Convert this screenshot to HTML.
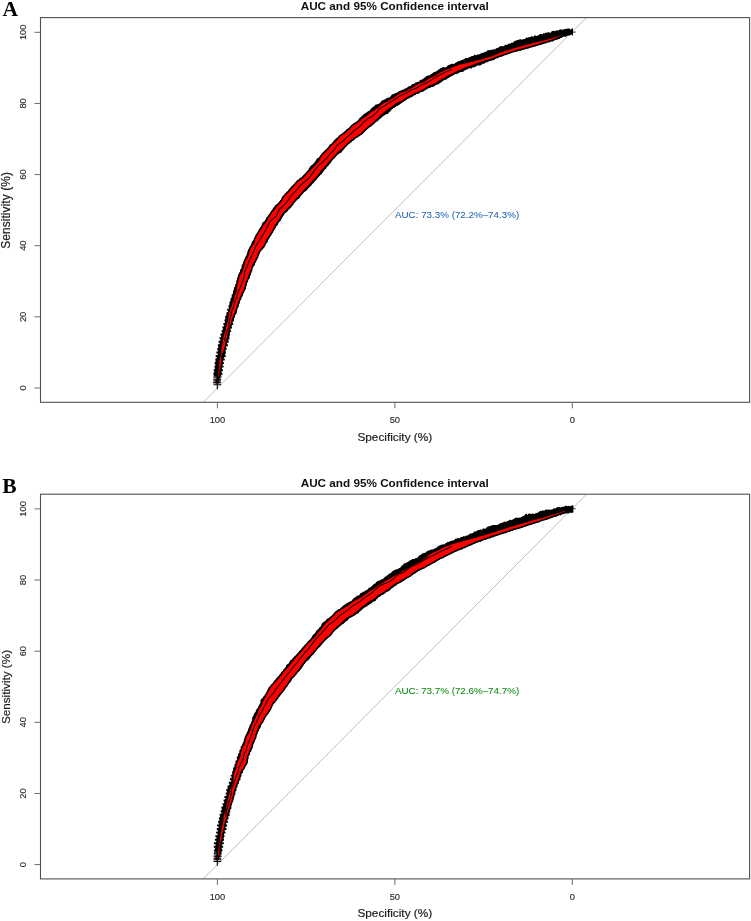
<!DOCTYPE html>
<html lang="en">
<head>
<meta charset="utf-8">
<title>AUC and 95% Confidence interval</title>
<style>
html,body{margin:0;padding:0;background:#fff;}
body{width:751px;height:921px;overflow:hidden;}
svg{display:block;filter:blur(0.35px);}
text{font-family:"Liberation Sans",Arial,Helvetica,sans-serif;fill:#222;}
.tk{font-size:9.3px;fill:#2a2a2a;stroke:#2a2a2a;stroke-width:0.15px;}
.lab{font-size:11.8px;fill:#1c1c1c;stroke:#1c1c1c;stroke-width:0.2px;}
.ttl{font-size:11.72px;font-weight:bold;fill:#111;}
.auc{font-size:9.8px;stroke-width:0.05px;}
.pl{font-family:"Liberation Serif","Times New Roman",serif;font-weight:bold;font-size:21.5px;fill:#000;}
</style>
</head>
<body>
<svg width="751" height="921" viewBox="0 0 751 921">
<rect width="751" height="921" fill="#fff"/>
<line x1="203.2" y1="402.3" x2="586.5" y2="17.6" stroke="#b4b4b4" stroke-width="0.85"/>
<polygon points="213.7,375.9 213.6,375.9 213.8,374.7 213.6,373.5 214.0,372.3 214.8,371.2 214.5,369.9 214.9,368.8 215.0,367.6 215.1,366.4 215.5,365.2 215.1,364.0 215.2,362.8 215.5,361.6 215.7,360.4 216.0,359.2 216.7,358.1 216.8,356.9 217.7,355.9 217.8,354.7 217.8,353.5 218.2,352.3 217.9,351.0 217.6,349.8 217.8,348.6 218.4,347.5 218.2,346.2 218.9,345.1 219.6,344.0 219.6,342.8 219.9,341.6 220.2,340.5 220.7,339.3 220.4,338.0 221.0,336.9 221.1,335.7 221.3,334.5 221.4,333.3 222.5,332.4 222.3,331.1 222.5,329.9 223.2,328.8 223.3,327.6 223.9,326.5 224.1,325.3 224.2,324.1 224.8,323.0 225.0,321.9 224.7,320.5 225.2,319.4 225.5,318.3 225.5,317.0 226.2,316.0 226.2,314.7 226.9,313.7 227.2,312.5 228.3,311.6 228.2,310.3 228.4,309.1 229.2,308.1 228.5,306.6 229.3,305.6 229.3,304.3 229.8,303.2 229.9,302.0 230.2,300.8 231.1,299.8 230.7,298.4 231.6,297.4 231.9,296.2 232.1,295.1 232.7,294.0 233.1,292.8 233.1,291.6 233.4,290.4 234.0,289.3 233.9,288.0 234.7,287.0 235.4,286.0 235.7,284.8 236.4,283.8 236.7,282.7 236.5,281.3 237.1,280.3 236.9,279.0 237.3,277.8 238.2,276.9 237.8,275.5 238.3,274.4 239.5,273.6 239.3,272.3 240.3,271.3 240.7,270.2 240.6,268.9 241.6,268.0 241.6,266.8 241.6,265.5 242.2,264.4 243.0,263.5 243.1,262.2 243.7,261.2 244.2,260.1 244.9,259.1 244.9,257.8 245.5,256.7 246.2,255.7 246.8,254.7 246.8,253.4 247.5,252.4 247.7,251.1 248.0,249.9 248.7,249.0 249.5,248.0 249.9,246.8 250.6,245.8 250.8,244.6 251.5,243.6 251.7,242.3 252.4,241.3 253.3,240.4 254.5,239.6 255.2,238.7 255.1,237.2 255.7,236.1 256.2,235.1 256.9,234.0 257.5,233.0 257.7,231.7 258.4,230.7 258.9,229.6 259.5,228.6 260.1,227.5 261.1,226.7 261.7,225.6 261.7,224.2 262.3,223.2 263.0,222.1 264.3,221.6 265.0,220.6 265.6,219.5 266.0,218.4 266.5,217.2 267.6,216.5 268.0,215.3 269.1,214.7 270.0,213.8 270.3,212.6 271.1,211.7 271.7,210.6 272.4,209.7 272.9,208.5 273.7,207.6 274.4,206.6 275.0,205.6 275.9,204.8 277.4,204.5 278.3,203.7 278.7,202.4 279.5,201.6 280.1,200.5 281.1,199.8 281.7,198.7 282.5,197.9 282.9,196.6 284.1,196.0 284.7,195.0 285.4,194.0 286.7,193.6 287.4,192.6 288.1,191.6 288.7,190.6 289.7,189.8 290.4,188.8 291.2,188.0 291.5,186.6 293.0,186.3 294.0,185.6 294.7,184.7 295.7,183.9 296.4,182.9 297.3,182.1 297.6,180.8 298.7,180.2 299.3,179.1 299.9,178.0 301.2,177.6 302.1,176.7 302.8,175.7 303.8,175.0 305.0,174.5 305.9,173.7 306.5,172.6 307.0,171.4 307.8,170.5 308.6,169.6 308.9,168.2 309.7,167.4 310.3,166.3 311.2,165.5 312.1,164.7 313.3,164.1 313.8,162.9 314.8,162.2 315.4,161.2 316.1,160.1 316.6,158.9 317.5,158.1 318.8,157.7 319.7,156.8 320.5,155.9 321.2,154.9 321.8,153.9 322.5,153.0 323.5,152.2 324.2,151.2 325.0,150.3 326.1,149.7 326.7,148.7 327.7,147.9 328.6,147.2 328.9,145.8 329.6,144.8 330.8,144.3 331.9,143.7 332.4,142.6 333.2,141.7 334.0,140.8 334.6,139.7 335.6,139.0 336.4,138.1 337.8,137.9 338.5,136.8 339.3,136.0 340.7,135.8 341.6,135.0 342.1,133.7 342.8,132.8 344.1,132.4 344.6,131.2 345.8,130.7 346.4,129.6 347.4,128.9 348.6,128.4 349.5,127.7 350.2,126.5 351.3,126.0 352.1,125.1 353.3,124.6 354.3,123.9 354.9,122.7 356.0,122.1 357.0,121.3 357.8,120.5 358.5,119.4 359.3,118.5 360.0,117.5 361.2,116.9 361.8,115.8 362.9,115.2 363.7,114.3 364.7,113.6 365.7,112.9 366.7,112.2 367.7,111.5 368.9,111.0 369.9,110.3 370.6,109.3 371.3,108.3 372.4,107.6 373.3,106.8 374.3,106.2 375.0,105.1 376.0,104.4 377.4,104.3 378.6,103.9 379.5,103.2 380.4,102.3 381.3,101.6 381.9,100.3 383.4,100.3 384.3,99.6 385.5,99.2 386.3,98.3 387.4,97.8 388.7,97.8 389.8,97.3 390.6,96.3 391.4,95.3 392.2,94.2 393.5,94.2 394.5,93.6 395.6,93.1 396.8,92.7 397.9,92.3 398.7,91.3 399.8,90.8 400.9,90.4 402.0,89.9 403.1,89.4 404.3,89.2 405.2,88.2 406.5,88.2 407.4,87.3 408.4,86.5 409.6,86.2 410.7,85.9 411.5,84.8 412.5,84.1 413.8,84.0 414.8,83.3 415.7,82.2 417.0,82.2 418.2,81.8 419.4,81.6 420.0,80.1 421.1,79.7 422.3,79.4 423.3,78.4 424.3,77.9 425.4,77.1 426.2,76.2 427.3,75.7 428.6,75.6 429.8,75.2 430.7,74.2 431.9,73.7 432.8,72.9 433.9,72.0 434.9,72.0 436.1,71.2 437.2,71.0 438.1,69.6 439.2,69.4 440.0,68.5 441.3,68.1 442.4,67.4 443.4,66.7 444.8,67.4 445.8,67.2 447.0,66.8 447.9,65.1 449.2,65.2 450.0,64.2 451.1,64.3 452.2,63.5 453.6,64.2 454.6,63.6 455.6,62.7 456.9,61.9 457.9,61.5 458.9,60.8 459.9,60.9 461.0,60.2 462.1,59.9 463.3,59.6 464.3,59.0 465.5,58.0 466.5,58.0 467.9,58.2 468.9,57.2 470.2,56.9 471.2,56.2 472.3,56.1 473.5,56.0 474.4,54.6 475.7,55.3 476.8,55.1 478.0,54.3 479.1,54.4 480.2,53.8 481.3,53.2 482.5,53.0 483.6,52.4 484.8,52.2 485.8,51.4 486.9,51.4 487.9,49.7 489.1,50.5 490.4,49.8 491.7,49.9 492.8,49.6 493.9,49.2 495.2,49.3 496.2,48.3 497.4,48.0 498.6,47.6 499.5,46.8 500.7,46.0 502.0,46.3 503.1,46.3 504.3,45.7 505.5,44.6 506.6,45.2 507.8,44.3 509.0,43.5 510.1,43.8 511.2,42.8 512.4,42.8 513.5,42.3 514.4,41.0 515.6,40.7 516.6,40.2 517.9,40.0 519.1,39.6 520.3,39.3 521.4,39.5 522.7,39.6 523.9,39.1 525.1,38.9 526.2,37.6 527.3,37.7 528.6,37.2 529.7,37.3 530.8,36.7 532.0,36.1 533.2,36.9 534.4,35.5 535.6,35.6 536.7,35.9 537.9,35.5 539.1,34.8 540.1,33.9 541.3,34.1 542.4,34.4 543.5,33.1 544.6,33.5 545.8,32.5 547.0,32.8 548.2,32.2 549.3,32.2 550.6,33.0 551.6,31.2 552.7,30.9 553.9,30.7 555.1,31.3 556.3,30.3 557.4,30.4 558.7,30.2 559.8,29.4 561.0,29.2 562.1,29.9 563.4,29.3 564.6,29.3 565.8,28.7 566.9,28.7 568.1,28.5 569.4,28.6 570.6,29.4 571.8,28.7 573.0,28.3 573.0,34.9 571.9,34.4 570.7,34.9 569.6,35.4 568.4,35.6 567.2,35.8 566.2,36.8 565.0,36.7 563.8,36.4 562.7,36.9 561.5,38.0 560.5,37.9 559.2,39.0 558.1,38.9 557.0,40.1 555.9,39.5 554.7,40.3 553.7,40.5 552.5,41.7 551.3,40.9 550.1,42.0 548.9,42.4 547.8,42.0 546.7,43.3 545.6,42.9 544.4,43.3 543.3,43.9 542.1,44.1 540.9,44.9 539.8,45.0 538.6,44.9 537.5,45.4 536.3,45.2 535.3,46.6 534.1,46.3 532.9,47.1 531.8,46.5 530.6,47.1 529.4,47.9 528.3,48.5 527.1,48.4 526.1,49.0 524.9,49.2 523.8,49.5 522.6,49.8 521.4,50.5 520.3,50.8 519.1,50.1 517.9,51.3 516.8,51.2 515.7,51.5 514.4,51.5 513.3,51.9 512.1,52.4 511.0,52.5 509.9,53.1 508.7,53.4 507.7,54.1 506.5,54.7 505.4,54.4 504.2,55.1 503.0,55.4 501.9,56.4 500.8,57.0 499.7,56.8 498.5,57.6 497.4,58.5 496.2,58.1 495.2,59.1 494.1,60.0 492.9,60.2 491.8,60.6 490.6,61.0 489.5,60.8 488.3,61.7 487.3,62.2 486.1,62.2 485.0,62.9 483.9,63.9 482.7,63.5 481.6,64.8 480.5,65.3 479.3,65.8 478.2,65.3 477.0,65.7 475.9,66.5 474.8,66.9 473.7,67.5 472.6,67.2 471.5,68.6 470.4,68.4 469.2,68.1 468.1,69.3 467.0,69.2 466.0,70.1 464.8,70.3 463.8,71.3 462.7,71.9 461.7,71.9 460.5,72.1 459.4,72.4 458.4,73.4 457.3,73.4 456.1,74.3 455.1,74.1 453.9,74.7 452.8,75.6 451.7,76.3 450.7,76.6 449.7,77.3 448.5,78.1 447.5,78.6 446.3,79.7 445.1,79.7 443.9,80.2 443.1,81.0 441.7,81.7 441.0,82.7 439.9,83.1 438.9,84.0 437.7,84.4 436.6,84.7 435.5,85.1 434.7,86.2 433.6,86.6 432.4,87.1 431.3,87.1 430.2,87.9 429.2,88.1 428.0,88.6 427.1,89.1 426.1,89.7 425.0,89.9 424.0,90.9 423.1,91.5 422.1,91.9 420.9,92.1 419.9,92.6 418.9,93.4 417.7,93.9 416.5,93.8 415.6,95.0 414.4,95.2 413.3,95.7 412.5,96.8 411.2,97.3 410.1,97.7 409.1,98.5 407.7,98.5 406.8,99.5 405.8,100.3 404.5,100.5 403.8,101.8 402.6,102.2 401.7,103.0 400.7,103.8 399.8,104.6 398.7,105.1 397.7,105.9 396.5,106.1 395.6,106.9 394.7,107.8 393.3,107.9 392.7,109.0 391.5,109.4 391.0,110.7 390.1,111.4 389.2,112.1 388.5,113.2 387.7,114.0 386.4,114.3 385.2,114.6 384.5,115.6 383.3,116.1 382.4,116.8 381.5,117.5 380.7,118.4 379.5,118.9 378.9,119.9 378.0,120.7 377.0,121.5 375.9,122.0 375.1,122.8 374.2,123.6 373.4,124.6 372.4,125.2 371.5,126.1 370.6,126.9 369.3,127.1 368.4,128.1 367.4,128.7 366.5,129.5 365.7,130.4 364.8,131.3 363.7,131.9 362.6,132.4 361.8,133.4 360.7,134.0 359.8,134.9 358.6,135.3 358.1,136.6 356.9,137.0 355.8,137.7 355.0,138.5 354.4,139.7 353.4,140.4 352.2,141.0 351.3,141.7 350.6,142.8 349.5,143.3 348.4,143.9 347.8,145.1 346.6,145.6 346.1,146.8 344.8,147.2 344.4,148.6 343.5,149.3 343.1,150.6 342.0,151.2 341.5,152.5 340.3,153.0 339.2,153.5 338.2,154.3 337.3,155.0 336.1,155.6 335.5,156.6 334.6,157.5 333.7,158.2 332.8,159.1 332.1,160.0 331.7,161.3 331.0,162.3 330.5,163.4 329.4,164.1 329.0,165.3 327.9,166.0 327.0,166.7 326.3,167.7 325.9,169.0 324.8,169.6 324.1,170.5 323.5,171.6 322.6,172.4 322.1,173.6 321.2,174.4 320.3,175.1 319.5,176.1 318.6,176.9 318.0,177.9 316.8,178.5 316.6,179.9 315.4,180.5 314.9,181.6 313.9,182.3 313.3,183.4 312.0,183.8 311.7,185.2 310.7,185.9 309.9,186.8 309.1,187.7 308.1,188.4 307.5,189.5 306.6,190.4 305.7,191.2 304.6,191.8 303.3,192.2 302.9,193.5 301.7,194.0 300.9,194.9 300.5,196.2 299.8,197.2 299.3,198.4 298.3,199.1 297.2,199.8 296.4,200.6 295.5,201.5 294.6,202.3 293.9,203.3 293.4,204.5 292.7,205.4 291.7,206.1 291.2,207.3 290.4,208.2 289.6,209.1 288.4,209.7 287.9,210.8 287.1,211.7 286.2,212.5 285.0,213.1 284.4,214.1 283.9,215.2 283.0,216.0 282.4,217.1 282.1,218.4 281.1,219.1 281.0,220.5 280.0,221.2 279.1,222.1 278.3,223.0 277.8,224.1 277.6,225.4 276.4,226.1 275.8,227.1 275.3,228.2 274.6,229.2 273.9,230.2 273.0,231.1 272.4,232.1 272.0,233.3 271.2,234.2 271.0,235.5 270.1,236.3 269.7,237.5 268.9,238.4 268.6,239.6 267.9,240.6 267.9,242.0 266.8,242.7 266.1,243.8 265.3,244.7 264.9,245.8 263.8,246.5 263.1,247.5 262.1,248.3 261.8,249.5 261.1,250.5 260.4,251.4 259.6,252.4 258.9,253.3 258.7,254.6 258.1,255.6 257.2,256.5 256.9,257.7 256.6,258.9 256.4,260.1 255.7,261.1 255.5,262.3 254.9,263.4 255.0,264.7 254.2,265.7 253.3,266.6 252.5,267.6 252.1,268.8 252.1,270.0 251.2,271.0 251.5,272.4 251.0,273.5 250.3,274.5 250.1,275.8 249.5,276.8 249.1,278.0 248.1,278.9 248.2,280.2 247.7,281.4 247.1,282.4 246.4,283.4 246.2,284.7 245.9,285.8 245.7,287.1 244.8,288.0 244.0,289.0 244.0,290.3 243.6,291.4 243.0,292.5 242.6,293.6 241.9,294.7 241.6,295.9 241.4,297.1 241.0,298.2 240.5,299.3 239.6,300.3 239.0,301.4 238.8,302.5 238.0,303.5 237.9,304.8 237.4,305.9 237.5,307.2 237.1,308.3 236.7,309.4 236.4,310.6 236.7,312.0 236.3,313.1 235.3,314.0 235.1,315.2 234.9,316.4 234.3,317.5 233.6,318.5 233.7,319.8 232.8,320.8 232.3,321.9 231.8,323.0 231.5,324.1 231.4,325.4 230.7,326.4 230.4,327.6 230.0,328.7 229.8,329.9 229.8,331.2 229.9,332.4 229.4,333.6 229.4,334.8 229.5,336.0 229.2,337.2 229.0,338.4 228.3,339.5 228.4,340.7 227.9,341.8 227.2,342.9 226.8,344.0 226.4,345.2 225.8,346.3 226.1,347.6 225.5,348.7 225.3,349.9 225.6,351.2 225.5,352.4 225.2,353.6 225.1,354.8 224.7,355.9 224.4,357.1 223.8,358.2 223.3,359.3 223.1,360.5 223.1,361.8 222.6,362.9 222.6,364.1 222.7,365.4 222.1,366.5 221.8,367.6 221.6,368.8 222.1,370.1 221.6,371.3 221.4,372.5 221.4,373.7 221.0,374.8 221.4,375.9" fill="#000"/>
<path d="M213.5 373.77H222.5M213.7 370.21H222.9M214.3 366.66H223.6M214.6 363.10H224.0M215.4 359.54H224.7M215.7 355.99H225.7M216.4 352.43H225.8M217.3 348.87H226.7M217.9 345.32H227.9M218.6 341.76H228.7M219.5 338.20H229.5M220.4 334.64H229.8M221.6 331.09H231.1M222.4 327.53H232.0M223.4 323.97H233.2M224.6 320.42H234.0M225.2 316.86H234.9M226.5 313.30H236.3M227.2 309.75H237.2M228.6 306.19H238.7M229.5 302.63H239.8M230.6 299.07H241.2M231.7 295.52H242.4M233.0 291.96H244.0M234.0 288.40H245.3M235.3 284.85H246.7M236.5 281.29H248.0M237.6 277.73H249.5M238.8 274.18H250.9M240.0 270.62H252.2" stroke="#000" stroke-width="1.9" fill="none"/>
<path d="M213.1 382.49H221.0M213.2 379.64H221.2M213.4 376.97H221.5" stroke="#000" stroke-width="1.5" fill="none" opacity="0.8"/>
<polygon points="213.4,383.7 213.9,375.9 221.2,375.9 220.5,383.7" fill="#000" opacity="0.4"/>
<path d="M213.5 384.8h7.8M217.3 381.6v7.6" stroke="#000" stroke-width="1.1" fill="none"/>
<path d="M569.1 32.1h6.6M572.5 28.7v7" stroke="#000" stroke-width="0.8" fill="none"/>
<polygon points="217.5,382.0 217.7,380.5 217.9,379.0 218.0,377.5 218.2,376.0 218.3,374.4 218.3,372.9 218.5,371.4 218.8,369.9 219.0,368.5 219.0,366.9 219.1,365.4 219.3,364.0 219.4,362.4 219.4,360.9 219.8,359.5 220.1,358.0 220.6,356.6 220.9,355.1 221.3,353.6 221.3,352.1 221.5,350.6 221.5,349.1 221.8,347.6 221.9,346.1 222.4,344.7 222.6,343.2 222.8,341.7 223.1,340.3 223.2,338.7 223.5,337.3 223.8,335.8 224.1,334.3 224.8,332.9 225.2,331.5 225.9,330.1 226.1,328.6 226.2,327.1 226.6,325.6 227.1,324.2 227.5,322.7 227.9,321.3 228.2,319.8 228.4,318.3 228.6,316.8 228.9,315.3 229.0,313.8 229.4,312.3 230.0,310.9 230.4,309.4 231.1,308.1 231.4,306.6 232.0,305.2 232.3,303.7 232.8,302.3 233.5,300.9 233.9,299.4 234.3,298.0 234.7,296.5 235.2,295.1 235.7,293.7 236.2,292.3 236.6,290.8 236.9,289.3 236.8,287.7 237.1,286.2 237.5,284.8 237.8,283.3 238.3,281.9 238.6,280.4 238.9,278.9 239.5,277.5 239.9,276.1 240.7,274.8 241.3,273.4 242.2,272.1 242.8,270.7 243.4,269.3 243.9,267.9 244.3,266.5 244.7,265.0 244.9,263.5 245.2,262.0 245.7,260.6 246.5,259.3 247.2,258.0 247.9,256.7 248.7,255.3 249.1,253.9 249.3,252.4 249.7,250.9 250.3,249.5 250.9,248.2 251.7,246.9 252.7,245.7 253.4,244.4 254.2,243.1 254.8,241.7 255.1,240.2 255.5,238.7 256.3,237.4 256.9,236.0 257.7,234.8 258.7,233.6 259.4,232.2 260.2,230.9 261.0,229.7 261.7,228.3 262.7,227.2 263.4,225.8 264.3,224.6 265.2,223.4 266.0,222.2 267.0,221.0 267.8,219.7 268.4,218.3 269.3,217.1 270.1,215.8 270.8,214.5 271.8,213.3 272.5,211.9 273.6,210.9 274.6,209.7 275.6,208.6 276.5,207.3 277.3,206.1 278.3,205.0 279.4,203.9 280.4,202.8 281.3,201.6 282.3,200.4 282.9,198.9 283.6,197.6 284.6,196.4 285.6,195.2 286.7,194.2 287.7,193.1 289.0,192.1 289.8,190.8 290.9,189.8 291.7,188.5 292.8,187.4 293.8,186.3 294.9,185.2 295.9,184.1 296.9,182.9 297.9,181.8 299.2,180.9 300.4,180.0 301.9,179.3 303.0,178.3 304.1,177.3 304.9,176.0 306.0,174.9 306.9,173.8 307.9,172.7 309.0,171.7 310.2,170.7 311.2,169.7 312.3,168.6 313.2,167.5 314.2,166.4 315.1,165.3 316.2,164.3 317.3,163.3 318.3,162.2 319.2,161.0 319.9,159.6 320.5,158.1 321.3,156.8 322.2,155.6 323.1,154.4 324.2,153.4 325.3,152.3 326.5,151.3 327.5,150.2 328.6,149.1 329.6,148.0 330.6,146.8 331.6,145.7 332.7,144.6 333.8,143.6 335.0,142.6 336.0,141.5 337.1,140.4 338.1,139.3 339.0,138.1 340.0,136.9 341.1,135.8 342.4,135.1 343.7,134.3 344.9,133.4 346.1,132.5 347.1,131.3 348.3,130.4 349.5,129.5 350.6,128.5 351.5,127.2 352.6,126.1 353.7,125.2 355.0,124.4 356.3,123.6 357.6,122.8 358.8,122.0 360.0,121.0 361.1,120.0 362.2,119.0 363.5,118.1 364.7,117.3 366.1,116.6 367.3,115.7 368.3,114.5 369.5,113.6 370.7,112.6 372.0,111.8 373.2,110.9 374.6,110.2 375.8,109.3 377.2,108.6 378.2,107.4 379.4,106.5 380.5,105.4 381.7,104.4 382.9,103.6 384.4,103.1 385.8,102.4 387.1,101.7 388.4,101.0 389.6,100.1 390.9,99.3 392.3,98.6 393.6,98.0 394.9,97.1 396.0,96.1 397.2,95.2 398.5,94.4 399.7,93.5 401.0,92.8 402.4,92.4 403.8,91.9 405.2,91.4 406.7,90.9 407.9,90.1 409.1,89.2 410.5,88.7 411.8,88.1 413.1,87.2 414.4,86.5 415.5,85.5 416.9,84.9 418.3,84.3 419.6,83.6 421.1,83.2 422.4,82.5 423.8,81.9 425.2,81.2 426.5,80.4 427.8,79.5 429.0,78.5 430.4,77.9 431.8,77.2 433.3,76.6 434.7,75.9 436.0,75.1 437.3,74.2 438.7,73.5 440.0,72.8 441.4,72.0 442.8,71.4 444.1,70.6 445.5,69.9 446.9,69.3 448.4,68.9 449.8,68.4 451.2,67.9 452.6,67.3 454.0,66.8 455.4,66.2 456.8,65.8 458.2,65.3 459.5,64.8 461.0,64.5 462.4,64.1 463.8,63.8 465.2,63.6 466.6,63.3 468.0,62.9 469.5,62.5 470.9,62.1 472.3,61.7 473.7,61.4 475.1,61.0 476.5,60.6 478.0,60.2 479.4,59.9 480.8,59.4 482.3,59.1 483.8,58.7 485.2,58.3 486.7,57.8 488.1,57.3 489.5,56.9 491.0,56.4 492.4,55.8 493.9,55.4 495.3,54.8 496.7,54.3 498.1,53.7 499.6,53.1 501.0,52.6 502.5,52.1 503.9,51.6 505.4,51.1 506.8,50.6 508.3,50.2 509.7,49.7 511.2,49.2 512.7,48.8 514.1,48.3 515.6,48.0 517.0,47.6 518.5,47.1 519.9,46.7 521.4,46.3 522.8,45.8 524.2,45.4 525.7,45.0 527.1,44.7 528.6,44.2 530.0,43.9 531.5,43.6 532.9,43.2 534.4,42.8 535.8,42.3 537.2,42.0 538.7,41.7 540.2,41.4 541.6,41.1 543.1,40.7 544.5,40.3 545.9,39.9 547.4,39.5 548.8,39.1 550.3,38.7 551.7,38.3 553.1,37.9 554.6,37.4 556.0,37.0 557.4,36.5 558.9,36.0 560.3,35.6 561.8,35.1 563.2,34.5 564.6,33.9 566.0,33.3 566.0,33.3 564.6,33.9 563.2,34.6 561.8,35.2 560.5,35.8 559.1,36.5 557.8,37.2 556.4,37.8 555.0,38.4 553.6,38.9 552.2,39.4 550.8,39.9 549.3,40.3 547.9,40.8 546.5,41.2 545.1,41.7 543.7,42.1 542.2,42.6 540.8,43.0 539.4,43.5 538.0,44.0 536.6,44.4 535.1,44.8 533.7,45.2 532.2,45.6 530.8,46.0 529.4,46.4 527.9,46.7 526.5,47.1 525.0,47.5 523.6,47.9 522.1,48.3 520.6,48.7 519.2,49.1 517.7,49.6 516.3,50.0 514.8,50.4 513.4,50.8 511.9,51.3 510.5,51.8 509.0,52.3 507.6,52.8 506.2,53.3 504.7,53.8 503.2,54.2 501.8,54.7 500.3,55.2 498.9,55.7 497.5,56.2 496.0,56.8 494.6,57.2 493.1,57.7 491.7,58.2 490.2,58.7 488.8,59.2 487.4,59.7 485.9,60.1 484.5,60.6 483.0,61.1 481.6,61.6 480.2,62.1 478.8,62.6 477.4,63.1 476.0,63.6 474.6,64.1 473.2,64.6 471.8,65.2 470.5,65.7 469.1,66.1 467.7,66.6 466.3,67.0 464.9,67.5 463.6,68.1 462.2,68.7 460.9,69.3 459.6,69.9 458.2,70.5 456.9,71.1 455.6,71.8 454.3,72.5 452.9,73.2 451.6,73.8 450.2,74.5 448.9,75.1 447.5,75.8 446.2,76.5 444.9,77.2 443.5,78.0 442.2,78.7 440.9,79.5 439.5,80.2 438.2,81.0 437.0,82.0 435.7,82.9 434.4,83.6 433.0,84.2 431.4,84.5 430.0,85.2 428.5,85.7 427.2,86.5 426.0,87.4 424.7,88.3 423.4,89.1 422.2,90.0 420.8,90.6 419.3,91.1 418.0,91.8 416.5,92.2 415.1,92.7 413.9,93.6 412.5,94.2 411.2,94.9 409.7,95.4 408.5,96.2 407.2,97.0 405.9,97.8 404.7,98.7 403.5,99.6 402.3,100.4 401.0,101.1 399.5,101.5 398.1,102.1 396.9,102.9 395.5,103.5 394.4,104.5 393.2,105.4 392.1,106.5 390.9,107.3 389.5,108.0 388.3,108.8 387.1,109.8 385.9,110.7 384.7,111.6 383.6,112.6 382.5,113.6 381.4,114.6 380.1,115.5 379.1,116.7 378.1,117.8 377.0,118.8 375.8,119.8 374.7,120.9 373.6,121.9 372.6,123.0 371.3,123.9 370.0,124.7 368.9,125.7 367.7,126.7 366.6,127.7 365.5,128.8 364.3,129.7 363.3,130.8 362.3,132.0 361.2,133.1 359.9,134.0 358.6,134.8 357.4,135.7 356.0,136.4 354.7,137.2 353.5,138.1 352.3,139.0 351.1,140.0 350.0,141.0 348.8,142.0 347.6,142.9 346.5,143.9 345.5,145.1 344.4,146.1 343.5,147.3 342.3,148.2 341.3,149.3 340.1,150.2 338.8,151.0 337.8,152.1 336.8,153.3 335.7,154.3 334.8,155.5 333.8,156.6 332.6,157.5 331.7,158.7 330.7,159.8 329.5,160.7 328.6,161.9 327.7,163.1 326.9,164.3 325.9,165.5 324.8,166.5 323.7,167.5 322.8,168.7 321.6,169.7 320.8,170.9 319.9,172.1 319.1,173.4 318.1,174.6 317.2,175.8 316.1,176.8 315.2,178.1 314.1,179.1 313.1,180.3 312.0,181.3 311.1,182.6 309.9,183.6 308.9,184.7 307.9,185.8 306.6,186.7 305.7,187.9 304.6,189.0 303.5,190.1 302.6,191.3 301.7,192.6 300.7,193.7 299.6,194.8 298.5,195.9 297.5,197.0 296.4,198.1 295.4,199.2 294.4,200.3 293.5,201.5 292.5,202.6 291.6,203.9 290.6,205.0 289.6,206.2 288.5,207.2 287.5,208.3 286.5,209.4 285.4,210.5 284.2,211.5 283.3,212.6 282.2,213.7 281.6,215.0 280.7,216.3 280.0,217.6 279.2,218.9 278.4,220.1 277.5,221.3 276.7,222.5 275.8,223.7 275.0,225.0 274.3,226.2 273.8,227.7 273.0,228.9 272.3,230.2 271.7,231.5 270.8,232.8 270.1,234.1 269.3,235.3 268.4,236.5 267.5,237.7 266.6,238.9 265.9,240.2 265.3,241.6 264.7,243.0 264.1,244.4 263.5,245.9 262.5,247.1 261.5,248.3 260.3,249.3 259.3,250.6 258.6,252.0 257.9,253.4 257.4,254.9 256.9,256.4 256.3,257.8 255.5,259.1 254.9,260.5 254.2,261.8 253.3,263.0 252.5,264.3 251.9,265.6 251.6,267.1 250.9,268.4 250.6,269.9 249.9,271.2 249.6,272.7 249.0,274.1 248.4,275.4 248.0,276.8 247.5,278.2 246.8,279.5 246.3,281.0 245.7,282.3 245.2,283.7 245.0,285.2 244.6,286.7 244.3,288.2 243.7,289.6 243.0,291.0 242.2,292.3 241.6,293.7 241.1,295.1 240.4,296.5 239.6,297.8 239.2,299.3 238.5,300.7 238.1,302.1 237.6,303.6 237.0,305.0 236.6,306.5 236.1,307.9 235.6,309.4 235.3,310.9 234.9,312.3 234.2,313.7 233.4,315.0 233.0,316.5 232.5,317.9 231.9,319.3 231.4,320.7 231.1,322.2 230.8,323.7 230.3,325.1 229.6,326.4 229.1,327.9 228.9,329.3 228.5,330.8 228.3,332.3 227.8,333.7 227.4,335.1 227.1,336.6 226.8,338.1 226.4,339.6 225.8,340.9 225.4,342.4 225.1,343.9 224.9,345.4 224.6,346.9 224.2,348.3 223.6,349.7 223.1,351.2 222.6,352.6 222.0,354.0 221.3,355.4 221.1,356.9 221.1,358.4 221.1,359.9 221.2,361.4 221.0,362.9 220.8,364.3 220.4,365.8 220.3,367.3 220.0,368.7 219.5,370.1 219.4,371.6 219.3,373.1 219.0,374.6 218.4,376.0 218.2,377.5 217.8,379.0 217.3,380.5 216.8,382.0" fill="#ff0000" stroke="#000" stroke-width="3.2" stroke-linejoin="round"/>
<polygon points="217.5,382.0 217.7,380.5 217.9,379.0 218.0,377.5 218.2,376.0 218.3,374.4 218.3,372.9 218.5,371.4 218.8,369.9 219.0,368.5 219.0,366.9 219.1,365.4 219.3,364.0 219.4,362.4 219.4,360.9 219.8,359.5 220.1,358.0 220.6,356.6 220.9,355.1 221.3,353.6 221.3,352.1 221.5,350.6 221.5,349.1 221.8,347.6 221.9,346.1 222.4,344.7 222.6,343.2 222.8,341.7 223.1,340.3 223.2,338.7 223.5,337.3 223.8,335.8 224.1,334.3 224.8,332.9 225.2,331.5 225.9,330.1 226.1,328.6 226.2,327.1 226.6,325.6 227.1,324.2 227.5,322.7 227.9,321.3 228.2,319.8 228.4,318.3 228.6,316.8 228.9,315.3 229.0,313.8 229.4,312.3 230.0,310.9 230.4,309.4 231.1,308.1 231.4,306.6 232.0,305.2 232.3,303.7 232.8,302.3 233.5,300.9 233.9,299.4 234.3,298.0 234.7,296.5 235.2,295.1 235.7,293.7 236.2,292.3 236.6,290.8 236.9,289.3 236.8,287.7 237.1,286.2 237.5,284.8 237.8,283.3 238.3,281.9 238.6,280.4 238.9,278.9 239.5,277.5 239.9,276.1 240.7,274.8 241.3,273.4 242.2,272.1 242.8,270.7 243.4,269.3 243.9,267.9 244.3,266.5 244.7,265.0 244.9,263.5 245.2,262.0 245.7,260.6 246.5,259.3 247.2,258.0 247.9,256.7 248.7,255.3 249.1,253.9 249.3,252.4 249.7,250.9 250.3,249.5 250.9,248.2 251.7,246.9 252.7,245.7 253.4,244.4 254.2,243.1 254.8,241.7 255.1,240.2 255.5,238.7 256.3,237.4 256.9,236.0 257.7,234.8 258.7,233.6 259.4,232.2 260.2,230.9 261.0,229.7 261.7,228.3 262.7,227.2 263.4,225.8 264.3,224.6 265.2,223.4 266.0,222.2 267.0,221.0 267.8,219.7 268.4,218.3 269.3,217.1 270.1,215.8 270.8,214.5 271.8,213.3 272.5,211.9 273.6,210.9 274.6,209.7 275.6,208.6 276.5,207.3 277.3,206.1 278.3,205.0 279.4,203.9 280.4,202.8 281.3,201.6 282.3,200.4 282.9,198.9 283.6,197.6 284.6,196.4 285.6,195.2 286.7,194.2 287.7,193.1 289.0,192.1 289.8,190.8 290.9,189.8 291.7,188.5 292.8,187.4 293.8,186.3 294.9,185.2 295.9,184.1 296.9,182.9 297.9,181.8 299.2,180.9 300.4,180.0 301.9,179.3 303.0,178.3 304.1,177.3 304.9,176.0 306.0,174.9 306.9,173.8 307.9,172.7 309.0,171.7 310.2,170.7 311.2,169.7 312.3,168.6 313.2,167.5 314.2,166.4 315.1,165.3 316.2,164.3 317.3,163.3 318.3,162.2 319.2,161.0 319.9,159.6 320.5,158.1 321.3,156.8 322.2,155.6 323.1,154.4 324.2,153.4 325.3,152.3 326.5,151.3 327.5,150.2 328.6,149.1 329.6,148.0 330.6,146.8 331.6,145.7 332.7,144.6 333.8,143.6 335.0,142.6 336.0,141.5 337.1,140.4 338.1,139.3 339.0,138.1 340.0,136.9 341.1,135.8 342.4,135.1 343.7,134.3 344.9,133.4 346.1,132.5 347.1,131.3 348.3,130.4 349.5,129.5 350.6,128.5 351.5,127.2 352.6,126.1 353.7,125.2 355.0,124.4 356.3,123.6 357.6,122.8 358.8,122.0 360.0,121.0 361.1,120.0 362.2,119.0 363.5,118.1 364.7,117.3 366.1,116.6 367.3,115.7 368.3,114.5 369.5,113.6 370.7,112.6 372.0,111.8 373.2,110.9 374.6,110.2 375.8,109.3 377.2,108.6 378.2,107.4 379.4,106.5 380.5,105.4 381.7,104.4 382.9,103.6 384.4,103.1 385.8,102.4 387.1,101.7 388.4,101.0 389.6,100.1 390.9,99.3 392.3,98.6 393.6,98.0 394.9,97.1 396.0,96.1 397.2,95.2 398.5,94.4 399.7,93.5 401.0,92.8 402.4,92.4 403.8,91.9 405.2,91.4 406.7,90.9 407.9,90.1 409.1,89.2 410.5,88.7 411.8,88.1 413.1,87.2 414.4,86.5 415.5,85.5 416.9,84.9 418.3,84.3 419.6,83.6 421.1,83.2 422.4,82.5 423.8,81.9 425.2,81.2 426.5,80.4 427.8,79.5 429.0,78.5 430.4,77.9 431.8,77.2 433.3,76.6 434.7,75.9 436.0,75.1 437.3,74.2 438.7,73.5 440.0,72.8 441.4,72.0 442.8,71.4 444.1,70.6 445.5,69.9 446.9,69.3 448.4,68.9 449.8,68.4 451.2,67.9 452.6,67.3 454.0,66.8 455.4,66.2 456.8,65.8 458.2,65.3 459.5,64.8 461.0,64.5 462.4,64.1 463.8,63.8 465.2,63.6 466.6,63.3 468.0,62.9 469.5,62.5 470.9,62.1 472.3,61.7 473.7,61.4 475.1,61.0 476.5,60.6 478.0,60.2 479.4,59.9 480.8,59.4 482.3,59.1 483.8,58.7 485.2,58.3 486.7,57.8 488.1,57.3 489.5,56.9 491.0,56.4 492.4,55.8 493.9,55.4 495.3,54.8 496.7,54.3 498.1,53.7 499.6,53.1 501.0,52.6 502.5,52.1 503.9,51.6 505.4,51.1 506.8,50.6 508.3,50.2 509.7,49.7 511.2,49.2 512.7,48.8 514.1,48.3 515.6,48.0 517.0,47.6 518.5,47.1 519.9,46.7 521.4,46.3 522.8,45.8 524.2,45.4 525.7,45.0 527.1,44.7 528.6,44.2 530.0,43.9 531.5,43.6 532.9,43.2 534.4,42.8 535.8,42.3 537.2,42.0 538.7,41.7 540.2,41.4 541.6,41.1 543.1,40.7 544.5,40.3 545.9,39.9 547.4,39.5 548.8,39.1 550.3,38.7 551.7,38.3 553.1,37.9 554.6,37.4 556.0,37.0 557.4,36.5 558.9,36.0 560.3,35.6 561.8,35.1 563.2,34.5 564.6,33.9 566.0,33.3 566.0,33.3 564.6,33.9 563.2,34.6 561.8,35.2 560.5,35.8 559.1,36.5 557.8,37.2 556.4,37.8 555.0,38.4 553.6,38.9 552.2,39.4 550.8,39.9 549.3,40.3 547.9,40.8 546.5,41.2 545.1,41.7 543.7,42.1 542.2,42.6 540.8,43.0 539.4,43.5 538.0,44.0 536.6,44.4 535.1,44.8 533.7,45.2 532.2,45.6 530.8,46.0 529.4,46.4 527.9,46.7 526.5,47.1 525.0,47.5 523.6,47.9 522.1,48.3 520.6,48.7 519.2,49.1 517.7,49.6 516.3,50.0 514.8,50.4 513.4,50.8 511.9,51.3 510.5,51.8 509.0,52.3 507.6,52.8 506.2,53.3 504.7,53.8 503.2,54.2 501.8,54.7 500.3,55.2 498.9,55.7 497.5,56.2 496.0,56.8 494.6,57.2 493.1,57.7 491.7,58.2 490.2,58.7 488.8,59.2 487.4,59.7 485.9,60.1 484.5,60.6 483.0,61.1 481.6,61.6 480.2,62.1 478.8,62.6 477.4,63.1 476.0,63.6 474.6,64.1 473.2,64.6 471.8,65.2 470.5,65.7 469.1,66.1 467.7,66.6 466.3,67.0 464.9,67.5 463.6,68.1 462.2,68.7 460.9,69.3 459.6,69.9 458.2,70.5 456.9,71.1 455.6,71.8 454.3,72.5 452.9,73.2 451.6,73.8 450.2,74.5 448.9,75.1 447.5,75.8 446.2,76.5 444.9,77.2 443.5,78.0 442.2,78.7 440.9,79.5 439.5,80.2 438.2,81.0 437.0,82.0 435.7,82.9 434.4,83.6 433.0,84.2 431.4,84.5 430.0,85.2 428.5,85.7 427.2,86.5 426.0,87.4 424.7,88.3 423.4,89.1 422.2,90.0 420.8,90.6 419.3,91.1 418.0,91.8 416.5,92.2 415.1,92.7 413.9,93.6 412.5,94.2 411.2,94.9 409.7,95.4 408.5,96.2 407.2,97.0 405.9,97.8 404.7,98.7 403.5,99.6 402.3,100.4 401.0,101.1 399.5,101.5 398.1,102.1 396.9,102.9 395.5,103.5 394.4,104.5 393.2,105.4 392.1,106.5 390.9,107.3 389.5,108.0 388.3,108.8 387.1,109.8 385.9,110.7 384.7,111.6 383.6,112.6 382.5,113.6 381.4,114.6 380.1,115.5 379.1,116.7 378.1,117.8 377.0,118.8 375.8,119.8 374.7,120.9 373.6,121.9 372.6,123.0 371.3,123.9 370.0,124.7 368.9,125.7 367.7,126.7 366.6,127.7 365.5,128.8 364.3,129.7 363.3,130.8 362.3,132.0 361.2,133.1 359.9,134.0 358.6,134.8 357.4,135.7 356.0,136.4 354.7,137.2 353.5,138.1 352.3,139.0 351.1,140.0 350.0,141.0 348.8,142.0 347.6,142.9 346.5,143.9 345.5,145.1 344.4,146.1 343.5,147.3 342.3,148.2 341.3,149.3 340.1,150.2 338.8,151.0 337.8,152.1 336.8,153.3 335.7,154.3 334.8,155.5 333.8,156.6 332.6,157.5 331.7,158.7 330.7,159.8 329.5,160.7 328.6,161.9 327.7,163.1 326.9,164.3 325.9,165.5 324.8,166.5 323.7,167.5 322.8,168.7 321.6,169.7 320.8,170.9 319.9,172.1 319.1,173.4 318.1,174.6 317.2,175.8 316.1,176.8 315.2,178.1 314.1,179.1 313.1,180.3 312.0,181.3 311.1,182.6 309.9,183.6 308.9,184.7 307.9,185.8 306.6,186.7 305.7,187.9 304.6,189.0 303.5,190.1 302.6,191.3 301.7,192.6 300.7,193.7 299.6,194.8 298.5,195.9 297.5,197.0 296.4,198.1 295.4,199.2 294.4,200.3 293.5,201.5 292.5,202.6 291.6,203.9 290.6,205.0 289.6,206.2 288.5,207.2 287.5,208.3 286.5,209.4 285.4,210.5 284.2,211.5 283.3,212.6 282.2,213.7 281.6,215.0 280.7,216.3 280.0,217.6 279.2,218.9 278.4,220.1 277.5,221.3 276.7,222.5 275.8,223.7 275.0,225.0 274.3,226.2 273.8,227.7 273.0,228.9 272.3,230.2 271.7,231.5 270.8,232.8 270.1,234.1 269.3,235.3 268.4,236.5 267.5,237.7 266.6,238.9 265.9,240.2 265.3,241.6 264.7,243.0 264.1,244.4 263.5,245.9 262.5,247.1 261.5,248.3 260.3,249.3 259.3,250.6 258.6,252.0 257.9,253.4 257.4,254.9 256.9,256.4 256.3,257.8 255.5,259.1 254.9,260.5 254.2,261.8 253.3,263.0 252.5,264.3 251.9,265.6 251.6,267.1 250.9,268.4 250.6,269.9 249.9,271.2 249.6,272.7 249.0,274.1 248.4,275.4 248.0,276.8 247.5,278.2 246.8,279.5 246.3,281.0 245.7,282.3 245.2,283.7 245.0,285.2 244.6,286.7 244.3,288.2 243.7,289.6 243.0,291.0 242.2,292.3 241.6,293.7 241.1,295.1 240.4,296.5 239.6,297.8 239.2,299.3 238.5,300.7 238.1,302.1 237.6,303.6 237.0,305.0 236.6,306.5 236.1,307.9 235.6,309.4 235.3,310.9 234.9,312.3 234.2,313.7 233.4,315.0 233.0,316.5 232.5,317.9 231.9,319.3 231.4,320.7 231.1,322.2 230.8,323.7 230.3,325.1 229.6,326.4 229.1,327.9 228.9,329.3 228.5,330.8 228.3,332.3 227.8,333.7 227.4,335.1 227.1,336.6 226.8,338.1 226.4,339.6 225.8,340.9 225.4,342.4 225.1,343.9 224.9,345.4 224.6,346.9 224.2,348.3 223.6,349.7 223.1,351.2 222.6,352.6 222.0,354.0 221.3,355.4 221.1,356.9 221.1,358.4 221.1,359.9 221.2,361.4 221.0,362.9 220.8,364.3 220.4,365.8 220.3,367.3 220.0,368.7 219.5,370.1 219.4,371.6 219.3,373.1 219.0,374.6 218.4,376.0 218.2,377.5 217.8,379.0 217.3,380.5 216.8,382.0" fill="#ff0000"/>
<polyline points="224.5,341.0 225.0,339.1 225.4,337.1 225.8,335.1 226.3,333.2 227.2,331.3 228.0,329.5 228.6,327.5 228.9,325.5 229.2,323.5 229.3,321.5 229.8,319.5 230.4,317.6 230.9,315.6 231.2,313.6 231.6,311.6 232.4,309.7 233.0,307.8 233.8,305.9 234.2,303.9 234.8,302.0 235.6,300.1 236.4,298.3 236.9,296.3 237.4,294.3 238.0,292.4 238.7,290.5 239.7,288.7 240.5,286.8 241.3,285.0 241.7,283.0 242.4,281.1 243.4,279.3 244.0,277.4 244.3,275.4 244.4,273.3 244.8,271.4 245.5,269.5 246.4,267.7 247.5,266.0 248.1,264.1 248.6,262.1 249.5,260.4 250.3,258.6 251.2,256.8 252.0,254.9 252.8,253.1 253.8,251.4 254.5,249.5 255.1,247.6 256.0,245.8 257.0,244.0 258.3,242.4 259.4,240.8 260.4,239.0 261.3,237.2 262.4,235.5 263.5,233.8 264.4,232.0 265.5,230.3 266.4,228.4 267.3,226.6 268.3,224.9 269.2,223.0 270.3,221.3 271.7,219.8 273.2,218.4 274.8,217.1 276.4,215.8 277.2,213.9 278.1,212.0 278.9,210.1 280.2,208.5 281.8,207.2 283.1,205.6 284.8,204.4 286.0,202.8 287.4,201.4 288.6,199.8 289.6,198.0 290.9,196.4 292.1,194.8 293.4,193.2 294.8,191.8 296.2,190.4 297.6,189.0 298.8,187.3 300.2,185.9 301.5,184.4 303.0,183.0 304.6,181.8 306.2,180.5 307.7,179.2 309.2,177.8 310.4,176.2 311.5,174.5 312.7,172.9 314.0,171.4 315.0,169.6 316.4,168.2 317.6,166.6 319.0,165.2 320.6,163.9 322.2,162.6 323.6,161.2 325.0,159.8 326.5,158.4 327.7,156.8 329.0,155.2 330.1,153.6 331.6,152.3 333.2,151.0 334.5,149.5 335.7,147.8 336.6,145.9 338.0,144.4 339.8,143.4 341.7,142.4 343.2,141.0 344.6,139.5 345.9,137.9 347.5,136.7 349.0,135.4 350.7,134.3 352.1,132.7 353.4,131.2 355.0,129.9 356.7,128.8 358.4,127.7 359.8,126.3 361.2,124.8 362.6,123.3 363.9,121.8 365.7,120.8 367.1,119.4 368.8,118.3 370.6,117.5 372.2,116.3 373.8,115.1 375.3,113.9 376.7,112.4 377.9,110.7 379.1,108.9 380.8,107.8 382.6,106.9 384.4,105.9 386.1,104.8 387.7,103.6 389.6,102.6 391.3,101.5 393.1,100.5 394.7,99.3 396.5,98.3 398.2,97.2 399.8,96.0 401.6,95.1 403.5,94.3 405.4,93.6 407.2,92.8 408.8,91.5 410.4,90.3 412.3,89.6 414.2,89.0 416.0,88.2 417.8,87.3 419.4,86.1 421.2,85.1 423.0,84.3 424.9,83.5 426.7,82.7 428.4,81.6 430.2,80.7 431.9,79.6 433.7,78.5 435.4,77.4 437.1,76.2 439.0,75.5 440.8,74.5 442.7,73.6 444.4,72.6 446.2,71.6 448.1,70.9 450.0,70.1 451.9,69.4" fill="none" stroke="#0a0000" stroke-width="1.05" stroke-linejoin="round"/>
<rect x="40.5" y="17.6" width="709.1" height="384.7" fill="none" stroke="#505050" stroke-width="1.1"/>
<path d="M34.5 388.00H40.5M34.5 316.86H40.5M34.5 245.72H40.5M34.5 174.58H40.5M34.5 103.44H40.5M34.5 32.30H40.5M217.40 402.3V408.3M394.85 402.3V408.3M572.30 402.3V408.3" stroke="#6a6a6a" stroke-width="1" fill="none"/>
<text class="tk" text-anchor="middle" transform="translate(26.3 388.0) rotate(-90)">0</text>
<text class="tk" text-anchor="middle" transform="translate(26.3 316.9) rotate(-90)">20</text>
<text class="tk" text-anchor="middle" transform="translate(26.3 245.7) rotate(-90)">40</text>
<text class="tk" text-anchor="middle" transform="translate(26.3 174.6) rotate(-90)">60</text>
<text class="tk" text-anchor="middle" transform="translate(26.3 103.4) rotate(-90)">80</text>
<text class="tk" text-anchor="middle" transform="translate(26.3 32.3) rotate(-90)">100</text>
<text class="tk" text-anchor="middle" x="217.4" y="423.2">100</text>
<text class="tk" text-anchor="middle" x="394.8" y="423.2">50</text>
<text class="tk" text-anchor="middle" x="572.3" y="423.2">0</text>
<text class="lab" text-anchor="middle" x="394.8" y="441.3">Specificity (%)</text>
<text class="lab" style="font-size:11.9px;letter-spacing:0.1px" text-anchor="middle" transform="translate(9.9 210.4) rotate(-90)">Sensitivity (%)</text>
<text class="ttl" text-anchor="middle" x="394.8" y="9.6">AUC and 95% Confidence interval</text>
<text class="auc" x="395.0" y="217.5" style="fill:#1f63b5;stroke:#1f63b5">AUC: 73.3% (72.2%–74.3%)</text>
<text class="pl" x="2.6" y="15.9">A</text>
<line x1="203.2" y1="878.9" x2="586.5" y2="494.2" stroke="#b4b4b4" stroke-width="0.85"/>
<polygon points="214.0,852.5 214.1,851.9 215.2,850.7 214.9,849.5 215.1,848.3 215.1,847.1 215.6,845.9 215.5,844.7 215.6,843.5 215.6,842.3 216.5,841.2 216.3,840.0 216.5,838.8 216.2,837.6 217.1,836.5 217.4,835.3 217.6,834.2 217.8,833.0 217.7,831.8 217.5,830.5 218.2,829.4 218.6,828.3 218.4,827.0 218.9,825.9 218.8,824.7 218.7,823.4 219.1,822.3 219.1,821.1 219.4,819.9 219.4,818.7 219.8,817.5 220.0,816.4 220.5,815.3 221.3,814.2 221.5,813.0 221.6,811.8 221.8,810.6 222.0,809.4 222.1,808.2 222.4,807.1 223.0,806.0 223.3,804.8 224.2,803.8 224.1,802.6 224.3,801.4 224.6,800.2 225.1,799.1 226.0,798.1 226.6,797.0 226.3,795.7 226.6,794.5 227.0,793.4 227.1,792.1 226.4,790.7 226.8,789.5 227.6,788.5 227.5,787.2 228.5,786.3 229.0,785.2 229.7,784.1 230.7,783.1 231.0,781.9 231.5,780.9 231.3,779.5 231.6,778.4 231.4,777.0 232.1,776.0 232.3,774.8 232.4,773.6 233.1,772.5 233.0,771.2 232.9,769.9 233.3,768.8 234.3,767.8 234.2,766.5 235.2,765.6 235.7,764.5 235.8,763.2 236.5,762.2 236.8,761.0 237.1,759.9 237.3,758.7 237.6,757.5 237.3,756.1 238.5,755.3 238.6,754.0 239.4,753.0 239.5,751.8 240.7,750.9 240.9,749.7 241.1,748.5 242.0,747.6 242.0,746.3 242.3,745.1 242.5,743.9 242.8,742.7 243.8,741.8 243.6,740.4 244.5,739.5 244.4,738.2 245.2,737.2 245.5,736.0 245.8,734.8 246.4,733.8 246.8,732.6 247.4,731.6 248.0,730.5 247.9,729.2 248.7,728.2 249.1,727.1 249.5,726.0 249.7,724.8 250.8,723.9 251.3,722.8 251.3,721.5 252.2,720.6 252.1,719.3 252.3,718.1 252.4,716.9 253.4,716.0 253.5,714.8 254.2,713.8 254.6,712.7 255.7,711.9 255.8,710.6 256.3,709.6 257.3,708.7 257.9,707.7 258.4,706.6 259.0,705.6 259.4,704.5 260.0,703.4 260.6,702.4 260.3,700.9 260.8,699.8 261.5,698.8 262.6,698.1 263.0,696.9 264.1,696.2 265.1,695.4 265.4,694.1 266.4,693.3 266.9,692.2 266.9,690.8 268.1,690.1 268.2,688.7 269.3,687.9 269.9,686.9 270.6,685.9 271.3,684.9 272.5,684.2 273.2,683.3 273.5,682.0 274.4,681.1 274.9,680.0 275.8,679.1 276.6,678.2 277.1,677.0 278.3,676.4 279.0,675.4 279.8,674.5 280.8,673.8 281.1,672.4 281.8,671.4 283.1,670.9 283.3,669.5 284.5,668.9 284.8,667.5 285.9,666.9 286.2,665.5 286.8,664.5 288.1,664.0 288.9,663.1 289.5,662.0 290.0,660.8 290.8,659.9 292.1,659.5 292.6,658.2 293.6,657.6 294.3,656.6 295.2,655.7 296.4,655.3 296.8,654.0 298.0,653.4 298.6,652.4 299.1,651.3 300.1,650.6 301.0,649.7 301.7,648.8 302.5,647.9 303.0,646.8 304.2,646.2 305.1,645.5 305.9,644.6 307.1,644.0 307.5,642.8 308.2,641.8 308.9,640.8 309.8,640.0 310.4,639.0 311.3,638.2 311.8,637.0 312.3,636.0 312.9,634.9 313.8,634.0 314.9,633.4 315.4,632.2 316.1,631.2 316.7,630.2 317.7,629.4 318.7,628.7 319.1,627.5 320.5,627.1 320.8,625.7 321.5,624.7 321.9,623.4 322.8,622.5 323.9,621.9 324.9,621.1 326.0,620.5 326.5,619.3 327.5,618.5 328.7,618.0 329.7,617.4 330.5,616.4 331.6,615.9 332.4,614.9 333.3,614.2 334.2,613.3 334.8,612.2 335.9,611.6 336.8,610.8 337.6,610.0 338.4,609.0 339.8,608.9 340.6,608.0 341.5,607.3 342.4,606.5 343.3,605.6 344.0,604.7 345.4,604.5 346.1,603.4 347.2,603.0 348.2,602.4 349.3,601.9 350.3,601.2 351.5,600.9 352.2,599.8 353.1,599.1 353.8,598.0 354.9,597.4 355.9,596.9 356.6,595.8 358.0,595.8 359.0,595.2 359.9,594.3 360.5,593.1 361.8,592.9 362.5,591.8 363.9,591.7 364.9,591.0 365.8,590.2 367.1,590.0 367.9,589.0 368.6,587.9 369.8,587.4 371.0,587.0 371.7,585.9 372.8,585.3 373.5,584.3 374.7,583.8 375.6,582.9 376.3,581.9 377.3,581.2 378.4,580.7 379.8,580.5 380.8,579.8 382.0,579.3 383.0,578.7 384.1,578.0 384.7,576.7 385.9,576.4 386.8,575.5 388.0,575.1 388.7,573.9 389.8,573.4 391.1,573.1 391.7,571.8 392.7,571.1 393.8,570.6 394.8,569.9 396.0,569.3 397.4,569.3 398.4,568.5 399.4,568.0 400.5,567.4 401.2,566.2 402.1,565.4 403.1,564.7 403.8,563.6 405.1,563.2 406.1,562.7 407.3,562.3 408.3,561.7 409.1,560.7 410.4,560.3 411.4,559.8 412.4,559.1 413.7,558.9 415.0,558.7 415.9,557.8 417.3,558.0 418.1,557.0 418.8,555.8 419.8,555.2 420.9,554.8 421.8,553.7 422.8,553.5 424.0,552.7 425.2,552.9 426.1,551.7 427.2,551.3 428.2,550.5 429.4,550.4 430.3,549.7 431.5,549.4 432.8,549.4 433.8,548.9 435.0,548.2 435.9,547.8 437.1,547.4 437.8,546.1 439.1,545.8 440.0,545.2 441.1,544.8 442.4,544.6 443.5,544.3 444.7,544.3 445.7,543.0 446.8,542.7 447.8,541.8 448.9,542.1 450.2,541.0 451.1,541.1 452.3,540.4 453.4,540.4 454.5,539.8 455.5,538.6 456.7,538.7 457.9,537.8 459.1,538.6 460.3,537.4 461.4,537.0 462.4,537.0 463.6,536.0 464.8,536.6 465.9,535.5 467.0,535.7 468.1,535.0 469.2,534.2 470.3,533.4 471.3,533.4 472.4,533.3 473.5,532.5 474.6,531.3 475.7,531.5 476.9,530.9 477.9,530.1 479.0,529.9 480.4,529.5 481.6,529.8 482.6,529.2 483.7,528.1 484.9,528.9 486.1,528.2 487.0,526.9 488.2,526.6 489.3,526.3 490.4,525.8 491.7,525.4 492.9,525.0 493.9,525.1 495.2,524.9 496.3,524.9 497.7,525.1 498.7,523.9 499.9,523.6 501.0,522.9 502.1,522.8 503.3,522.2 504.5,521.4 505.7,522.1 506.7,521.2 508.0,521.1 509.1,520.3 510.3,519.6 511.5,520.3 512.6,519.4 513.8,519.1 514.9,518.1 516.1,517.7 517.3,517.6 518.4,517.9 519.6,517.5 520.8,517.5 521.8,516.8 523.0,516.0 524.2,515.7 525.1,514.4 526.3,513.6 527.6,514.9 528.7,513.4 530.0,513.6 531.3,514.3 532.4,513.2 533.7,513.9 534.9,513.8 536.0,512.7 537.3,513.3 538.4,512.1 539.4,511.4 540.5,510.8 541.8,511.1 542.8,510.0 544.1,510.9 545.2,509.5 546.5,509.8 547.6,509.8 548.9,509.6 550.0,509.8 551.3,509.4 552.4,509.4 553.6,508.2 554.7,508.5 555.8,508.2 557.0,507.3 558.2,507.1 559.3,507.1 560.5,507.5 561.7,506.9 562.9,506.4 564.0,506.9 565.2,505.8 566.3,505.7 567.5,506.3 568.7,505.8 569.9,506.2 571.1,505.7 572.2,505.8 573.4,505.4 573.4,512.4 572.2,512.4 571.1,513.3 569.9,512.5 568.8,513.4 567.7,513.6 566.4,513.3 565.3,513.7 564.2,513.6 563.0,514.6 561.9,514.2 560.7,515.5 559.6,515.0 558.4,515.4 557.3,516.3 556.2,516.4 554.9,517.1 553.8,516.3 552.6,516.6 551.4,517.1 550.3,517.6 549.1,517.8 548.0,519.0 546.9,519.8 545.8,520.1 544.5,519.8 543.4,520.3 542.2,521.2 541.1,520.8 539.9,521.3 538.8,521.4 537.7,522.9 536.5,522.6 535.3,523.1 534.2,523.6 533.0,523.7 531.8,524.0 530.7,524.4 529.6,524.4 528.4,524.7 527.3,526.3 526.1,525.6 524.8,525.9 523.7,526.4 522.6,526.4 521.5,528.1 520.3,527.4 519.2,527.8 518.0,528.8 516.8,528.2 515.7,528.9 514.5,529.8 513.4,529.4 512.3,531.0 511.1,531.0 510.0,531.5 508.8,531.1 507.6,531.4 506.6,532.2 505.4,533.3 504.2,532.7 503.2,533.8 502.0,534.2 500.8,533.5 499.7,534.1 498.6,534.8 497.3,535.5 496.2,535.3 495.0,535.5 493.9,536.7 492.9,537.5 491.7,537.0 490.6,538.3 489.5,538.4 488.3,538.0 487.1,539.1 486.0,539.6 484.8,539.0 483.8,539.6 482.6,540.0 481.5,540.9 480.4,541.9 479.3,542.0 478.1,541.8 476.9,542.6 475.9,543.0 474.8,543.0 473.7,543.4 472.7,544.2 471.5,545.3 470.4,545.6 469.3,545.7 468.2,546.4 467.0,546.2 466.0,547.5 464.8,548.2 463.7,547.8 462.7,549.3 461.6,549.7 460.5,549.8 459.2,549.6 458.2,550.2 457.1,551.2 455.9,551.7 454.8,551.2 453.6,552.5 452.6,552.9 451.6,553.0 450.5,554.1 449.4,553.9 448.3,555.3 447.1,554.8 446.0,555.4 444.9,556.4 444.0,556.8 442.9,557.1 441.8,558.0 440.7,558.0 439.6,559.3 438.6,559.5 437.4,560.2 436.5,560.7 435.4,561.3 434.1,561.3 433.1,562.0 432.4,563.0 431.4,564.1 430.4,564.6 429.4,565.5 428.4,565.8 427.1,566.0 425.9,566.5 424.9,567.1 423.9,567.7 422.5,567.8 421.5,568.5 420.5,569.2 419.8,570.4 418.7,571.1 417.8,571.6 416.7,572.3 415.8,573.3 414.6,573.5 413.6,574.3 412.7,575.0 411.6,575.5 410.2,575.8 409.3,576.5 408.3,577.2 407.2,577.7 406.5,578.9 405.3,579.2 404.7,580.5 403.4,580.7 402.5,581.5 401.5,582.2 400.3,582.6 398.9,582.7 398.1,583.8 397.0,584.3 396.4,585.5 395.3,586.1 394.1,586.5 393.4,587.5 392.2,588.0 391.1,588.5 390.5,589.8 389.6,590.5 388.5,591.2 387.4,591.7 386.2,592.0 385.3,592.9 384.5,593.8 383.4,594.4 382.4,595.0 381.1,595.3 380.4,596.4 379.2,596.7 378.1,597.4 377.5,598.5 376.5,599.2 375.9,600.4 375.0,601.3 373.8,601.6 372.6,602.1 371.8,603.0 370.9,603.8 369.7,604.2 368.9,605.1 367.7,605.6 366.9,606.4 365.8,606.9 364.7,607.6 363.7,608.1 362.9,609.1 362.0,609.8 360.9,610.5 360.2,611.4 359.2,612.1 358.5,613.2 357.5,613.8 356.2,614.1 355.5,615.1 354.2,615.4 353.1,615.8 352.4,617.0 351.2,617.3 350.1,617.8 349.1,618.4 348.3,619.4 347.6,620.5 346.5,621.0 345.6,621.8 344.6,622.5 344.0,623.6 342.7,623.9 341.8,624.7 340.9,625.5 340.0,626.3 338.8,626.8 338.2,627.9 337.3,628.7 336.2,629.2 335.2,630.0 334.2,630.7 333.5,631.7 332.5,632.4 332.1,633.8 331.1,634.5 330.3,635.4 329.6,636.5 328.4,637.1 327.8,638.2 326.7,638.8 325.8,639.7 325.0,640.6 324.0,641.4 323.5,642.6 322.4,643.3 321.7,644.3 321.1,645.4 320.3,646.4 319.4,647.2 318.3,647.8 317.6,648.8 316.6,649.6 315.6,650.3 315.3,651.6 314.5,652.6 314.0,653.7 313.3,654.6 312.2,655.3 311.3,656.1 310.9,657.3 310.1,658.2 309.1,658.9 308.7,660.1 307.5,660.7 306.5,661.3 305.7,662.2 305.1,663.3 304.3,664.1 303.5,665.0 303.2,666.2 302.2,667.0 301.7,668.1 301.2,669.2 300.0,669.7 299.5,670.8 298.6,671.6 297.6,672.3 297.0,673.3 296.2,674.2 295.1,674.9 294.8,676.1 294.0,677.0 292.8,677.6 292.3,678.7 291.7,679.8 291.3,681.1 290.7,682.1 289.5,682.7 288.6,683.5 287.9,684.5 287.0,685.3 286.5,686.5 285.6,687.3 284.6,688.1 284.0,689.2 283.1,690.1 282.7,691.3 282.0,692.3 281.0,693.1 280.8,694.5 279.7,695.2 278.8,696.1 277.9,697.0 277.2,698.0 276.4,698.9 276.0,700.1 275.3,701.1 274.5,702.1 273.9,703.2 272.9,704.0 272.2,705.0 271.6,706.1 271.4,707.4 270.6,708.3 269.4,709.0 269.0,710.2 268.4,711.2 267.7,712.2 267.0,713.2 266.8,714.5 265.6,715.2 265.0,716.3 264.8,717.5 263.7,718.3 263.4,719.5 262.6,720.4 262.4,721.6 262.0,722.8 261.7,724.0 260.9,724.9 261.0,726.3 260.5,727.4 259.9,728.4 259.0,729.3 258.9,730.5 258.1,731.5 257.5,732.5 257.5,733.8 256.6,734.7 255.7,735.6 255.8,736.9 255.2,738.0 254.5,738.9 254.3,740.2 254.3,741.4 253.7,742.5 253.5,743.6 253.0,744.7 253.1,746.0 252.2,746.9 251.7,748.0 251.5,749.2 250.6,750.2 250.7,751.5 249.7,752.4 249.3,753.5 248.9,754.7 248.6,755.8 247.6,756.8 247.7,758.1 247.2,759.2 247.0,760.4 246.4,761.5 246.5,762.8 245.8,763.9 245.5,765.1 244.6,766.0 244.3,767.2 243.8,768.3 243.4,769.5 242.5,770.5 242.4,771.8 242.0,772.9 241.1,773.9 240.8,775.1 240.5,776.3 240.0,777.4 240.0,778.8 239.3,779.8 238.6,780.8 238.3,782.0 237.8,783.1 237.3,784.3 236.8,785.4 236.5,786.6 236.1,787.7 235.5,788.8 235.5,790.1 235.3,791.3 234.9,792.4 234.9,793.7 234.2,794.8 233.8,795.9 233.5,797.0 233.4,798.3 232.8,799.3 232.3,800.4 231.7,801.5 231.5,802.7 230.6,803.7 230.3,804.9 230.7,806.2 230.4,807.3 230.4,808.6 230.3,809.8 229.7,810.9 229.7,812.1 229.3,813.2 228.4,814.2 228.1,815.4 227.5,816.4 227.5,817.7 227.0,818.8 227.4,820.1 226.6,821.2 226.1,822.3 226.0,823.5 226.0,824.7 225.7,825.9 225.0,827.0 224.7,828.1 224.6,829.3 224.6,830.6 224.5,831.8 224.4,833.0 224.0,834.1 224.0,835.3 223.7,836.5 223.8,837.7 223.0,838.8 223.0,840.0 222.7,841.2 222.2,842.3 221.9,843.5 222.0,844.7 221.7,845.9 221.5,847.1 221.5,848.3 222.1,849.6 221.5,850.7 221.6,852.0 221.7,852.5" fill="#000"/>
<path d="M213.9 850.37H222.4M213.8 846.82H223.1M213.9 843.26H223.8M214.9 839.70H224.0M215.3 836.14H224.5M216.1 832.59H225.5M216.8 829.03H226.5M217.1 825.47H227.1M218.0 821.92H228.1M218.9 818.36H228.6M219.7 814.80H229.7M220.7 811.25H230.2M221.3 807.69H231.4M222.5 804.13H232.0M223.6 800.57H233.2M224.4 797.02H234.1M225.7 793.46H235.4M226.5 789.90H236.5M227.6 786.35H237.6M228.8 782.79H238.8M229.9 779.23H240.4M230.8 775.67H241.6M232.1 772.12H243.0M233.2 768.56H244.3M234.5 765.00H245.7M235.5 761.45H247.1M236.8 757.89H248.5M238.1 754.33H249.8M239.4 750.78H251.2M240.7 747.22H252.4" stroke="#000" stroke-width="1.9" fill="none"/>
<path d="M213.4 859.09H221.3M213.6 856.24H221.6M213.7 853.57H221.8" stroke="#000" stroke-width="1.5" fill="none" opacity="0.8"/>
<polygon points="213.7,860.3 214.2,852.5 221.5,852.5 220.9,860.3" fill="#000" opacity="0.4"/>
<path d="M213.5 861.4h7.8M217.3 858.2v7.6" stroke="#000" stroke-width="1.1" fill="none"/>
<path d="M569.1 508.7h6.6M572.5 505.3v7" stroke="#000" stroke-width="0.8" fill="none"/>
<polygon points="217.7,858.6 217.8,857.1 217.8,855.6 218.0,854.1 218.2,852.6 218.3,851.1 218.5,849.6 218.5,848.0 218.9,846.6 219.0,845.1 219.3,843.6 219.6,842.1 219.8,840.6 220.0,839.1 220.2,837.6 220.7,836.2 220.9,834.7 221.1,833.2 221.1,831.7 221.3,830.2 221.7,828.7 222.0,827.3 222.4,825.8 223.0,824.4 223.0,822.9 223.4,821.4 223.5,819.9 223.6,818.4 223.5,816.8 224.0,815.4 224.4,813.9 225.0,812.5 225.7,811.1 225.9,809.6 226.5,808.2 226.5,806.7 226.6,805.1 226.9,803.6 227.3,802.2 227.6,800.7 228.0,799.3 228.4,797.8 228.6,796.3 229.1,794.9 229.4,793.4 229.8,791.9 230.0,790.4 230.6,789.0 231.3,787.6 231.7,786.2 232.3,784.8 232.7,783.3 233.0,781.8 233.4,780.4 233.4,778.8 233.6,777.3 233.8,775.8 234.0,774.3 234.5,772.9 235.0,771.5 235.5,770.0 236.2,768.7 236.4,767.2 236.7,765.7 236.9,764.2 237.3,762.7 238.1,761.4 238.7,760.0 239.6,758.7 240.0,757.2 240.7,755.9 240.8,754.3 241.2,752.9 241.5,751.4 241.9,749.9 242.4,748.5 242.9,747.1 243.6,745.7 244.5,744.4 245.1,743.0 245.5,741.5 245.8,740.0 246.1,738.5 246.6,737.1 247.3,735.8 248.2,734.5 249.1,733.2 249.8,731.9 250.2,730.4 250.8,729.0 251.3,727.6 251.6,726.0 252.1,724.6 252.8,723.3 253.6,722.0 254.4,720.7 254.8,719.3 255.6,718.0 256.1,716.6 256.7,715.3 257.5,714.0 258.0,712.6 258.4,711.2 258.8,709.8 259.7,708.6 260.3,707.3 261.2,706.1 261.9,704.8 262.4,703.4 262.9,702.0 263.5,700.6 264.3,699.4 264.7,697.9 265.6,696.7 266.3,695.3 267.2,694.1 267.9,692.7 268.7,691.4 269.3,689.9 269.9,688.5 271.0,687.4 271.9,686.1 273.1,685.1 274.0,683.8 275.1,682.7 276.0,681.4 277.2,680.4 278.2,679.2 279.3,678.1 280.2,676.8 281.0,675.5 282.1,674.3 283.0,673.1 283.9,671.8 285.0,670.7 286.1,669.6 287.3,668.6 288.1,667.2 289.0,666.1 290.0,664.9 291.1,663.8 291.8,662.5 293.0,661.5 293.8,660.2 294.7,659.0 295.7,657.9 296.7,656.8 297.7,655.7 298.6,654.6 299.8,653.6 300.7,652.5 301.5,651.3 302.6,650.2 303.4,649.0 304.5,648.0 305.3,646.8 306.2,645.6 307.2,644.6 308.2,643.5 309.2,642.4 310.3,641.4 311.4,640.4 312.4,639.3 313.5,638.3 314.6,637.2 315.7,636.2 316.6,635.0 317.4,633.7 318.3,632.5 319.3,631.3 320.4,630.2 321.2,628.9 322.3,627.8 323.2,626.6 324.2,625.4 325.1,624.1 326.1,623.0 327.3,621.9 328.5,621.0 329.6,619.9 330.7,618.8 331.8,617.8 332.9,616.8 334.1,615.8 335.0,614.5 335.9,613.3 337.1,612.3 338.5,611.7 339.8,611.0 341.0,610.0 342.2,609.2 343.5,608.5 344.8,607.7 346.1,606.9 347.3,606.0 348.7,605.5 349.9,604.5 351.1,603.6 352.2,602.6 353.3,601.6 354.6,600.8 356.0,600.2 357.4,599.5 358.7,598.8 360.0,598.0 361.2,597.2 362.5,596.4 363.8,595.7 365.1,594.8 366.4,594.0 367.5,593.0 368.7,592.1 369.9,591.1 371.3,590.4 372.5,589.5 373.8,588.7 375.1,587.9 376.4,587.1 377.6,586.1 378.7,585.1 380.1,584.4 381.3,583.5 382.6,582.7 384.0,582.0 385.3,581.3 386.7,580.6 388.0,579.9 389.3,579.1 390.6,578.3 391.9,577.5 393.1,576.6 394.4,575.9 395.8,575.3 397.1,574.6 398.5,574.0 399.7,573.0 401.0,572.3 402.2,571.4 403.3,570.4 404.7,569.9 406.1,569.3 407.3,568.5 408.7,568.0 410.0,567.4 411.2,566.5 412.4,565.7 413.7,565.0 415.0,564.3 416.3,563.5 417.6,562.8 419.0,562.2 420.3,561.5 421.7,560.8 422.9,559.8 424.2,559.0 425.4,558.1 426.7,557.1 427.8,555.9 429.2,555.1 430.5,554.1 431.9,553.4 433.3,552.8 434.8,552.1 436.1,551.4 437.6,550.8 439.0,550.1 440.3,549.4 441.6,548.6 442.9,547.7 444.3,547.2 445.7,546.7 447.1,546.3 448.5,545.7 449.9,545.3 451.2,544.7 452.6,544.3 454.0,543.7 455.4,543.3 456.8,542.9 458.3,542.6 459.7,542.3 461.1,541.9 462.5,541.5 463.9,541.1 465.3,540.6 466.7,540.1 468.1,539.8 469.6,539.5 471.0,539.1 472.4,538.7 473.9,538.3 475.3,537.9 476.7,537.4 478.1,537.0 479.6,536.6 481.1,536.2 482.5,535.8 484.0,535.5 485.4,535.1 486.9,534.6 488.3,534.1 489.8,533.6 491.2,533.2 492.7,532.8 494.1,532.3 495.6,531.9 497.0,531.4 498.5,530.8 499.9,530.4 501.4,529.9 502.8,529.4 504.3,529.0 505.8,528.5 507.2,528.0 508.7,527.5 510.2,527.1 511.6,526.6 513.1,526.2 514.6,525.8 516.0,525.4 517.5,524.9 519.0,524.5 520.4,524.1 521.9,523.7 523.3,523.2 524.8,522.8 526.3,522.4 527.7,522.0 529.2,521.5 530.6,521.1 532.0,520.6 533.5,520.2 535.0,519.8 536.4,519.4 537.9,519.0 539.3,518.6 540.8,518.2 542.3,517.9 543.7,517.5 545.1,517.1 546.6,516.6 548.0,516.2 549.4,515.7 550.9,515.3 552.3,514.9 553.8,514.5 555.2,514.1 556.6,513.6 558.1,513.2 559.5,512.7 560.9,512.2 562.3,511.7 563.7,511.3 565.1,510.9 566.6,510.5 566.6,510.6 565.2,511.2 563.8,511.7 562.4,512.3 561.0,512.8 559.5,513.4 558.1,513.9 556.7,514.5 555.3,515.0 553.9,515.5 552.5,516.0 551.0,516.5 549.6,517.1 548.2,517.6 546.8,518.1 545.3,518.5 543.9,518.9 542.4,519.3 541.0,519.8 539.6,520.4 538.2,520.9 536.7,521.3 535.3,521.8 533.9,522.3 532.5,522.7 531.0,523.2 529.6,523.6 528.2,524.1 526.8,524.6 525.4,525.1 523.9,525.6 522.5,526.1 521.1,526.5 519.7,527.0 518.2,527.4 516.8,527.8 515.3,528.2 513.9,528.5 512.4,529.0 511.0,529.4 509.6,529.9 508.2,530.4 506.8,530.9 505.4,531.4 503.9,531.9 502.5,532.3 501.1,532.8 499.7,533.3 498.3,533.8 496.8,534.2 495.4,534.7 494.0,535.1 492.6,535.6 491.1,536.0 489.7,536.5 488.3,537.0 486.9,537.6 485.5,538.0 484.1,538.5 482.6,539.0 481.2,539.5 479.8,540.0 478.4,540.5 477.0,541.1 475.6,541.6 474.2,542.3 472.8,542.8 471.4,543.4 470.0,544.0 468.6,544.5 467.3,545.2 465.9,545.8 464.5,546.4 463.1,546.9 461.7,547.5 460.3,548.1 458.9,548.7 457.5,549.3 456.0,549.7 454.7,550.5 453.4,551.2 452.0,551.8 450.7,552.6 449.3,553.3 447.9,553.9 446.6,554.5 445.2,555.1 443.9,556.0 442.6,556.8 441.2,557.3 439.7,557.8 438.4,558.5 437.1,559.3 435.8,560.1 434.6,561.0 433.2,561.7 431.9,562.4 430.5,563.1 429.2,563.8 427.8,564.4 426.6,565.3 425.3,566.0 424.0,566.9 422.6,567.4 421.2,568.1 419.7,568.5 418.4,569.2 417.0,569.9 415.8,570.8 414.5,571.5 413.3,572.5 412.0,573.3 410.9,574.2 409.8,575.4 408.4,576.0 407.0,576.7 405.8,577.5 404.5,578.2 403.1,579.0 401.9,579.7 400.6,580.6 399.4,581.4 398.1,582.2 396.7,582.8 395.3,583.4 394.0,584.2 392.7,584.9 391.7,586.1 390.5,587.1 389.4,588.1 388.1,588.9 386.8,589.7 385.7,590.6 384.4,591.5 383.2,592.3 381.7,592.9 380.5,593.7 379.2,594.5 377.9,595.2 376.8,596.2 375.8,597.4 374.5,598.2 373.3,599.1 372.0,599.9 370.6,600.5 369.4,601.3 368.1,602.1 366.8,603.0 365.7,604.0 364.5,604.9 363.3,605.8 362.1,606.6 360.9,607.5 359.7,608.5 358.6,609.5 357.5,610.5 356.5,611.6 355.4,612.7 354.1,613.5 353.1,614.6 351.6,615.1 350.3,615.8 348.8,616.4 347.5,617.1 346.3,618.0 345.1,619.0 344.0,620.1 343.0,621.1 341.9,622.3 340.8,623.2 339.7,624.3 338.5,625.2 337.3,626.1 336.2,627.1 335.1,628.2 333.9,629.2 332.9,630.3 331.9,631.5 331.1,632.8 330.2,634.1 329.1,635.2 327.9,636.1 326.7,637.1 325.5,638.1 324.5,639.2 323.3,640.2 322.3,641.3 321.3,642.6 320.2,643.6 319.1,644.6 318.2,645.9 317.2,647.0 316.2,648.2 315.4,649.5 314.4,650.6 313.3,651.6 312.3,652.7 311.3,653.8 310.3,654.9 309.1,655.8 308.0,656.9 306.9,657.8 305.9,658.9 305.2,660.2 304.2,661.4 303.5,662.7 302.5,663.7 301.5,664.9 300.7,666.1 299.8,667.3 299.1,668.6 298.3,669.9 297.2,670.9 296.2,672.0 295.4,673.2 294.5,674.4 293.4,675.5 292.4,676.6 291.3,677.6 290.1,678.6 289.4,679.9 288.7,681.3 287.8,682.5 287.1,683.9 286.3,685.2 285.2,686.3 284.5,687.6 283.5,688.8 282.7,690.1 281.8,691.3 280.7,692.4 279.7,693.6 278.9,694.8 278.0,696.1 277.0,697.3 276.2,698.6 275.3,699.8 274.3,701.0 273.2,702.1 272.3,703.3 271.5,704.7 270.9,706.1 270.2,707.5 269.7,709.0 268.9,710.2 268.0,711.5 267.2,712.8 266.2,713.9 265.1,715.1 264.5,716.5 263.8,717.8 263.0,719.1 262.4,720.5 261.7,721.9 260.7,723.0 259.8,724.2 258.9,725.5 258.3,726.9 257.8,728.3 257.4,729.7 256.7,731.0 256.3,732.5 255.6,733.8 255.2,735.2 255.0,736.7 254.5,738.1 253.8,739.4 253.3,740.8 252.6,742.1 252.0,743.5 251.6,744.9 251.3,746.4 250.9,747.7 250.2,749.1 249.5,750.4 248.9,751.7 248.3,753.1 247.8,754.5 247.1,755.8 246.8,757.3 246.6,758.9 246.5,760.4 246.3,762.0 245.8,763.4 244.8,764.7 244.1,766.1 243.4,767.4 242.4,768.7 241.7,770.1 240.8,771.4 240.2,772.8 239.6,774.2 239.2,775.7 239.0,777.3 238.5,778.7 237.8,780.2 237.3,781.6 236.9,783.1 236.1,784.4 235.5,785.8 235.1,787.3 234.6,788.8 234.3,790.2 233.8,791.7 233.3,793.1 233.2,794.6 232.7,796.0 232.4,797.5 232.1,798.9 231.6,800.3 231.2,801.8 230.7,803.2 230.1,804.5 229.7,806.0 229.4,807.4 228.8,808.8 228.2,810.2 227.9,811.7 227.4,813.1 227.2,814.6 226.9,816.1 226.5,817.6 225.9,819.0 225.4,820.4 224.8,821.9 224.6,823.4 224.3,824.8 224.1,826.3 223.8,827.8 223.4,829.2 222.9,830.7 222.5,832.1 222.2,833.6 222.2,835.1 222.0,836.6 221.8,838.0 221.2,839.4 220.8,840.9 220.2,842.3 220.1,843.8 219.5,845.2 219.6,846.7 219.4,848.2 219.5,849.8 219.3,851.3 219.3,852.9 218.8,854.3 218.2,855.7 217.3,857.1 216.8,858.6" fill="#ff0000" stroke="#000" stroke-width="3.2" stroke-linejoin="round"/>
<polygon points="217.7,858.6 217.8,857.1 217.8,855.6 218.0,854.1 218.2,852.6 218.3,851.1 218.5,849.6 218.5,848.0 218.9,846.6 219.0,845.1 219.3,843.6 219.6,842.1 219.8,840.6 220.0,839.1 220.2,837.6 220.7,836.2 220.9,834.7 221.1,833.2 221.1,831.7 221.3,830.2 221.7,828.7 222.0,827.3 222.4,825.8 223.0,824.4 223.0,822.9 223.4,821.4 223.5,819.9 223.6,818.4 223.5,816.8 224.0,815.4 224.4,813.9 225.0,812.5 225.7,811.1 225.9,809.6 226.5,808.2 226.5,806.7 226.6,805.1 226.9,803.6 227.3,802.2 227.6,800.7 228.0,799.3 228.4,797.8 228.6,796.3 229.1,794.9 229.4,793.4 229.8,791.9 230.0,790.4 230.6,789.0 231.3,787.6 231.7,786.2 232.3,784.8 232.7,783.3 233.0,781.8 233.4,780.4 233.4,778.8 233.6,777.3 233.8,775.8 234.0,774.3 234.5,772.9 235.0,771.5 235.5,770.0 236.2,768.7 236.4,767.2 236.7,765.7 236.9,764.2 237.3,762.7 238.1,761.4 238.7,760.0 239.6,758.7 240.0,757.2 240.7,755.9 240.8,754.3 241.2,752.9 241.5,751.4 241.9,749.9 242.4,748.5 242.9,747.1 243.6,745.7 244.5,744.4 245.1,743.0 245.5,741.5 245.8,740.0 246.1,738.5 246.6,737.1 247.3,735.8 248.2,734.5 249.1,733.2 249.8,731.9 250.2,730.4 250.8,729.0 251.3,727.6 251.6,726.0 252.1,724.6 252.8,723.3 253.6,722.0 254.4,720.7 254.8,719.3 255.6,718.0 256.1,716.6 256.7,715.3 257.5,714.0 258.0,712.6 258.4,711.2 258.8,709.8 259.7,708.6 260.3,707.3 261.2,706.1 261.9,704.8 262.4,703.4 262.9,702.0 263.5,700.6 264.3,699.4 264.7,697.9 265.6,696.7 266.3,695.3 267.2,694.1 267.9,692.7 268.7,691.4 269.3,689.9 269.9,688.5 271.0,687.4 271.9,686.1 273.1,685.1 274.0,683.8 275.1,682.7 276.0,681.4 277.2,680.4 278.2,679.2 279.3,678.1 280.2,676.8 281.0,675.5 282.1,674.3 283.0,673.1 283.9,671.8 285.0,670.7 286.1,669.6 287.3,668.6 288.1,667.2 289.0,666.1 290.0,664.9 291.1,663.8 291.8,662.5 293.0,661.5 293.8,660.2 294.7,659.0 295.7,657.9 296.7,656.8 297.7,655.7 298.6,654.6 299.8,653.6 300.7,652.5 301.5,651.3 302.6,650.2 303.4,649.0 304.5,648.0 305.3,646.8 306.2,645.6 307.2,644.6 308.2,643.5 309.2,642.4 310.3,641.4 311.4,640.4 312.4,639.3 313.5,638.3 314.6,637.2 315.7,636.2 316.6,635.0 317.4,633.7 318.3,632.5 319.3,631.3 320.4,630.2 321.2,628.9 322.3,627.8 323.2,626.6 324.2,625.4 325.1,624.1 326.1,623.0 327.3,621.9 328.5,621.0 329.6,619.9 330.7,618.8 331.8,617.8 332.9,616.8 334.1,615.8 335.0,614.5 335.9,613.3 337.1,612.3 338.5,611.7 339.8,611.0 341.0,610.0 342.2,609.2 343.5,608.5 344.8,607.7 346.1,606.9 347.3,606.0 348.7,605.5 349.9,604.5 351.1,603.6 352.2,602.6 353.3,601.6 354.6,600.8 356.0,600.2 357.4,599.5 358.7,598.8 360.0,598.0 361.2,597.2 362.5,596.4 363.8,595.7 365.1,594.8 366.4,594.0 367.5,593.0 368.7,592.1 369.9,591.1 371.3,590.4 372.5,589.5 373.8,588.7 375.1,587.9 376.4,587.1 377.6,586.1 378.7,585.1 380.1,584.4 381.3,583.5 382.6,582.7 384.0,582.0 385.3,581.3 386.7,580.6 388.0,579.9 389.3,579.1 390.6,578.3 391.9,577.5 393.1,576.6 394.4,575.9 395.8,575.3 397.1,574.6 398.5,574.0 399.7,573.0 401.0,572.3 402.2,571.4 403.3,570.4 404.7,569.9 406.1,569.3 407.3,568.5 408.7,568.0 410.0,567.4 411.2,566.5 412.4,565.7 413.7,565.0 415.0,564.3 416.3,563.5 417.6,562.8 419.0,562.2 420.3,561.5 421.7,560.8 422.9,559.8 424.2,559.0 425.4,558.1 426.7,557.1 427.8,555.9 429.2,555.1 430.5,554.1 431.9,553.4 433.3,552.8 434.8,552.1 436.1,551.4 437.6,550.8 439.0,550.1 440.3,549.4 441.6,548.6 442.9,547.7 444.3,547.2 445.7,546.7 447.1,546.3 448.5,545.7 449.9,545.3 451.2,544.7 452.6,544.3 454.0,543.7 455.4,543.3 456.8,542.9 458.3,542.6 459.7,542.3 461.1,541.9 462.5,541.5 463.9,541.1 465.3,540.6 466.7,540.1 468.1,539.8 469.6,539.5 471.0,539.1 472.4,538.7 473.9,538.3 475.3,537.9 476.7,537.4 478.1,537.0 479.6,536.6 481.1,536.2 482.5,535.8 484.0,535.5 485.4,535.1 486.9,534.6 488.3,534.1 489.8,533.6 491.2,533.2 492.7,532.8 494.1,532.3 495.6,531.9 497.0,531.4 498.5,530.8 499.9,530.4 501.4,529.9 502.8,529.4 504.3,529.0 505.8,528.5 507.2,528.0 508.7,527.5 510.2,527.1 511.6,526.6 513.1,526.2 514.6,525.8 516.0,525.4 517.5,524.9 519.0,524.5 520.4,524.1 521.9,523.7 523.3,523.2 524.8,522.8 526.3,522.4 527.7,522.0 529.2,521.5 530.6,521.1 532.0,520.6 533.5,520.2 535.0,519.8 536.4,519.4 537.9,519.0 539.3,518.6 540.8,518.2 542.3,517.9 543.7,517.5 545.1,517.1 546.6,516.6 548.0,516.2 549.4,515.7 550.9,515.3 552.3,514.9 553.8,514.5 555.2,514.1 556.6,513.6 558.1,513.2 559.5,512.7 560.9,512.2 562.3,511.7 563.7,511.3 565.1,510.9 566.6,510.5 566.6,510.6 565.2,511.2 563.8,511.7 562.4,512.3 561.0,512.8 559.5,513.4 558.1,513.9 556.7,514.5 555.3,515.0 553.9,515.5 552.5,516.0 551.0,516.5 549.6,517.1 548.2,517.6 546.8,518.1 545.3,518.5 543.9,518.9 542.4,519.3 541.0,519.8 539.6,520.4 538.2,520.9 536.7,521.3 535.3,521.8 533.9,522.3 532.5,522.7 531.0,523.2 529.6,523.6 528.2,524.1 526.8,524.6 525.4,525.1 523.9,525.6 522.5,526.1 521.1,526.5 519.7,527.0 518.2,527.4 516.8,527.8 515.3,528.2 513.9,528.5 512.4,529.0 511.0,529.4 509.6,529.9 508.2,530.4 506.8,530.9 505.4,531.4 503.9,531.9 502.5,532.3 501.1,532.8 499.7,533.3 498.3,533.8 496.8,534.2 495.4,534.7 494.0,535.1 492.6,535.6 491.1,536.0 489.7,536.5 488.3,537.0 486.9,537.6 485.5,538.0 484.1,538.5 482.6,539.0 481.2,539.5 479.8,540.0 478.4,540.5 477.0,541.1 475.6,541.6 474.2,542.3 472.8,542.8 471.4,543.4 470.0,544.0 468.6,544.5 467.3,545.2 465.9,545.8 464.5,546.4 463.1,546.9 461.7,547.5 460.3,548.1 458.9,548.7 457.5,549.3 456.0,549.7 454.7,550.5 453.4,551.2 452.0,551.8 450.7,552.6 449.3,553.3 447.9,553.9 446.6,554.5 445.2,555.1 443.9,556.0 442.6,556.8 441.2,557.3 439.7,557.8 438.4,558.5 437.1,559.3 435.8,560.1 434.6,561.0 433.2,561.7 431.9,562.4 430.5,563.1 429.2,563.8 427.8,564.4 426.6,565.3 425.3,566.0 424.0,566.9 422.6,567.4 421.2,568.1 419.7,568.5 418.4,569.2 417.0,569.9 415.8,570.8 414.5,571.5 413.3,572.5 412.0,573.3 410.9,574.2 409.8,575.4 408.4,576.0 407.0,576.7 405.8,577.5 404.5,578.2 403.1,579.0 401.9,579.7 400.6,580.6 399.4,581.4 398.1,582.2 396.7,582.8 395.3,583.4 394.0,584.2 392.7,584.9 391.7,586.1 390.5,587.1 389.4,588.1 388.1,588.9 386.8,589.7 385.7,590.6 384.4,591.5 383.2,592.3 381.7,592.9 380.5,593.7 379.2,594.5 377.9,595.2 376.8,596.2 375.8,597.4 374.5,598.2 373.3,599.1 372.0,599.9 370.6,600.5 369.4,601.3 368.1,602.1 366.8,603.0 365.7,604.0 364.5,604.9 363.3,605.8 362.1,606.6 360.9,607.5 359.7,608.5 358.6,609.5 357.5,610.5 356.5,611.6 355.4,612.7 354.1,613.5 353.1,614.6 351.6,615.1 350.3,615.8 348.8,616.4 347.5,617.1 346.3,618.0 345.1,619.0 344.0,620.1 343.0,621.1 341.9,622.3 340.8,623.2 339.7,624.3 338.5,625.2 337.3,626.1 336.2,627.1 335.1,628.2 333.9,629.2 332.9,630.3 331.9,631.5 331.1,632.8 330.2,634.1 329.1,635.2 327.9,636.1 326.7,637.1 325.5,638.1 324.5,639.2 323.3,640.2 322.3,641.3 321.3,642.6 320.2,643.6 319.1,644.6 318.2,645.9 317.2,647.0 316.2,648.2 315.4,649.5 314.4,650.6 313.3,651.6 312.3,652.7 311.3,653.8 310.3,654.9 309.1,655.8 308.0,656.9 306.9,657.8 305.9,658.9 305.2,660.2 304.2,661.4 303.5,662.7 302.5,663.7 301.5,664.9 300.7,666.1 299.8,667.3 299.1,668.6 298.3,669.9 297.2,670.9 296.2,672.0 295.4,673.2 294.5,674.4 293.4,675.5 292.4,676.6 291.3,677.6 290.1,678.6 289.4,679.9 288.7,681.3 287.8,682.5 287.1,683.9 286.3,685.2 285.2,686.3 284.5,687.6 283.5,688.8 282.7,690.1 281.8,691.3 280.7,692.4 279.7,693.6 278.9,694.8 278.0,696.1 277.0,697.3 276.2,698.6 275.3,699.8 274.3,701.0 273.2,702.1 272.3,703.3 271.5,704.7 270.9,706.1 270.2,707.5 269.7,709.0 268.9,710.2 268.0,711.5 267.2,712.8 266.2,713.9 265.1,715.1 264.5,716.5 263.8,717.8 263.0,719.1 262.4,720.5 261.7,721.9 260.7,723.0 259.8,724.2 258.9,725.5 258.3,726.9 257.8,728.3 257.4,729.7 256.7,731.0 256.3,732.5 255.6,733.8 255.2,735.2 255.0,736.7 254.5,738.1 253.8,739.4 253.3,740.8 252.6,742.1 252.0,743.5 251.6,744.9 251.3,746.4 250.9,747.7 250.2,749.1 249.5,750.4 248.9,751.7 248.3,753.1 247.8,754.5 247.1,755.8 246.8,757.3 246.6,758.9 246.5,760.4 246.3,762.0 245.8,763.4 244.8,764.7 244.1,766.1 243.4,767.4 242.4,768.7 241.7,770.1 240.8,771.4 240.2,772.8 239.6,774.2 239.2,775.7 239.0,777.3 238.5,778.7 237.8,780.2 237.3,781.6 236.9,783.1 236.1,784.4 235.5,785.8 235.1,787.3 234.6,788.8 234.3,790.2 233.8,791.7 233.3,793.1 233.2,794.6 232.7,796.0 232.4,797.5 232.1,798.9 231.6,800.3 231.2,801.8 230.7,803.2 230.1,804.5 229.7,806.0 229.4,807.4 228.8,808.8 228.2,810.2 227.9,811.7 227.4,813.1 227.2,814.6 226.9,816.1 226.5,817.6 225.9,819.0 225.4,820.4 224.8,821.9 224.6,823.4 224.3,824.8 224.1,826.3 223.8,827.8 223.4,829.2 222.9,830.7 222.5,832.1 222.2,833.6 222.2,835.1 222.0,836.6 221.8,838.0 221.2,839.4 220.8,840.9 220.2,842.3 220.1,843.8 219.5,845.2 219.6,846.7 219.4,848.2 219.5,849.8 219.3,851.3 219.3,852.9 218.8,854.3 218.2,855.7 217.3,857.1 216.8,858.6" fill="#ff0000"/>
<polyline points="225.2,817.5 225.7,815.6 226.0,813.6 226.4,811.6 226.8,809.6 227.4,807.7 227.9,805.8 228.3,803.8 228.8,801.8 229.6,800.0 230.3,798.1 230.8,796.1 231.0,794.1 231.3,792.1 231.4,790.1 231.8,788.1 232.6,786.2 233.5,784.4 234.0,782.4 234.6,780.5 235.4,778.7 236.0,776.7 236.8,774.9 237.6,773.0 238.2,771.1 238.7,769.1 239.0,767.0 240.1,765.3 240.9,763.4 241.9,761.6 242.6,759.7 243.4,757.8 243.7,755.8 244.2,753.9 245.1,752.1 246.3,750.3 246.7,748.4 247.0,746.4 247.6,744.5 248.5,742.7 249.1,740.8 250.0,739.0 250.8,737.2 251.4,735.3 252.2,733.4 252.5,731.4 253.1,729.5 253.9,727.6 254.5,725.7 255.6,724.0 256.6,722.3 257.5,720.4 258.3,718.6 258.7,716.5 259.5,714.7 260.7,713.0 262.0,711.4 262.9,709.6 263.7,707.8 264.6,705.9 265.6,704.2 266.4,702.3 267.4,700.5 268.5,698.8 269.6,697.2 271.1,695.7 272.4,694.2 273.9,692.7 274.9,691.0 275.8,689.2 277.0,687.6 278.3,686.0 279.7,684.5 281.0,683.0 282.1,681.2 283.2,679.6 284.5,678.0 285.8,676.5 286.9,674.8 288.3,673.3 289.6,671.8 290.8,670.2 291.9,668.5 293.3,666.9 294.6,665.4 296.0,664.0 297.3,662.5 298.6,660.9 299.6,659.2 301.0,657.7 302.2,656.1 303.3,654.5 304.5,652.9 306.0,651.5 307.6,650.2 308.8,648.6 309.9,646.9 311.0,645.3 312.3,643.8 313.4,642.1 314.6,640.5 315.8,639.0 317.4,637.6 318.7,636.1 320.1,634.6 321.5,633.1 322.9,631.7 324.1,630.1 325.5,628.5 326.8,627.0 328.2,625.4 329.7,624.0 331.5,622.9 333.2,621.8 334.8,620.5 336.3,619.1 337.7,617.7 339.1,616.2 340.8,615.0 342.5,613.9 344.0,612.6 345.8,611.6 347.3,610.3 348.9,609.1 350.5,607.9 351.9,606.4 353.6,605.4 355.4,604.4 357.0,603.2 358.8,602.3 360.5,601.2 361.9,599.8 363.4,598.5 365.1,597.4 366.8,596.3 368.4,595.2 370.1,594.1 371.6,592.8 373.2,591.7 374.6,590.2 376.1,588.8 377.7,587.7 379.2,586.3 381.0,585.3 382.7,584.3 384.7,583.6 386.6,583.0 388.5,582.1 390.3,581.2 391.8,579.9 393.5,578.8 394.9,577.3 396.4,575.9 398.0,574.6 399.7,573.6 401.8,573.0 403.7,572.2 405.3,571.0 406.9,569.8 408.6,568.7 410.3,567.4 411.9,566.2 413.8,565.4 415.8,564.8 417.7,564.0 419.4,562.9 421.1,561.8 422.9,560.8 424.6,559.8 426.3,558.7 428.2,557.7 430.0,556.9 431.8,556.0 433.7,555.2 435.5,554.2 437.2,553.2 439.0,552.2 440.8,551.4 442.6,550.6 444.4,549.7 446.3,548.9 448.2,548.2 449.9,547.3 451.8,546.5" fill="none" stroke="#0a0000" stroke-width="1.05" stroke-linejoin="round"/>
<rect x="40.5" y="494.2" width="709.1" height="384.7" fill="none" stroke="#505050" stroke-width="1.1"/>
<path d="M34.5 864.60H40.5M34.5 793.46H40.5M34.5 722.32H40.5M34.5 651.18H40.5M34.5 580.04H40.5M34.5 508.90H40.5M217.40 878.9V884.9M394.85 878.9V884.9M572.30 878.9V884.9" stroke="#6a6a6a" stroke-width="1" fill="none"/>
<text class="tk" text-anchor="middle" transform="translate(26.3 864.6) rotate(-90)">0</text>
<text class="tk" text-anchor="middle" transform="translate(26.3 793.5) rotate(-90)">20</text>
<text class="tk" text-anchor="middle" transform="translate(26.3 722.3) rotate(-90)">40</text>
<text class="tk" text-anchor="middle" transform="translate(26.3 651.2) rotate(-90)">60</text>
<text class="tk" text-anchor="middle" transform="translate(26.3 580.0) rotate(-90)">80</text>
<text class="tk" text-anchor="middle" transform="translate(26.3 508.9) rotate(-90)">100</text>
<text class="tk" text-anchor="middle" x="217.4" y="899.8">100</text>
<text class="tk" text-anchor="middle" x="394.8" y="899.8">50</text>
<text class="tk" text-anchor="middle" x="572.3" y="899.8">0</text>
<text class="lab" text-anchor="middle" x="394.8" y="917.3">Specificity (%)</text>
<text class="lab" style="font-size:11.7px" text-anchor="middle" transform="translate(9.9 687.0) rotate(-90)">Sensitivity (%)</text>
<text class="ttl" text-anchor="middle" x="394.8" y="487.1">AUC and 95% Confidence interval</text>
<text class="auc" x="395.0" y="694.1" style="fill:#0d8a0d;stroke:#0d8a0d">AUC: 73.7% (72.6%–74.7%)</text>
<text class="pl" x="2.2" y="493.4">B</text>
</svg>
</body>
</html>
